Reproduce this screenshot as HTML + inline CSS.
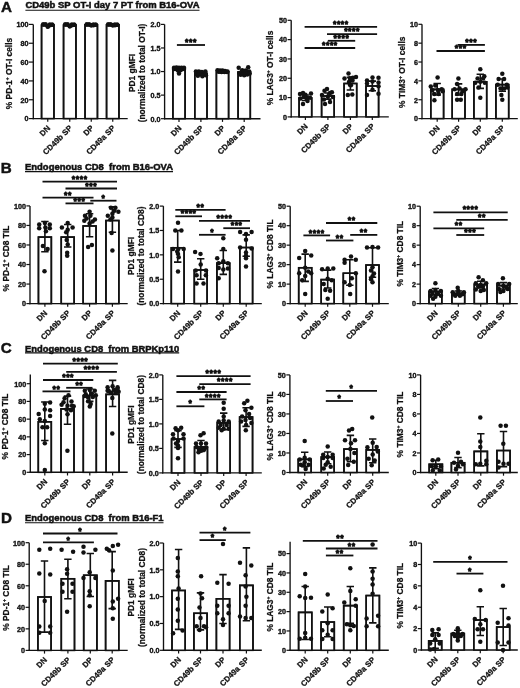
<!DOCTYPE html>
<html><head><meta charset="utf-8"><title>Figure</title>
<style>
html,body{margin:0;padding:0;background:#fff;}
svg{display:block;}
text{font-family:'Liberation Sans', Arial, sans-serif;font-weight:bold;fill:#111;stroke:none;}
.tk{font-size:7.2px;stroke:#111;stroke-width:0.35px;}
.xl{font-size:7.9px;stroke:#111;stroke-width:0.25px;}
.st{font-size:8.6px;stroke:#111;stroke-width:0.8px;stroke-linejoin:round;letter-spacing:0.6px;}
.yl{font-size:8.4px;stroke:#111;stroke-width:0.25px;}
.rl{font-size:15.2px;stroke:#111;stroke-width:0.45px;}
.ti{font-size:9.6px;stroke:#111;stroke-width:0.5px;font-family:'Liberation Sans',sans-serif;}
</style></head><body>
<svg width="520" height="688" viewBox="0 0 520 688">
<rect width="520" height="688" fill="#fff"/>
<g stroke="#111" stroke-width="1.6" fill="none">
<line x1="33.3" y1="24.4" x2="33.3" y2="119.25" stroke-width="1.35" />
<line x1="32.65" y1="118.6" x2="127.7" y2="118.6" stroke-width="1.4" />
<line x1="28.9" y1="118.60" x2="33.3" y2="118.60" stroke-width="1.2" />
<text class="tk" x="28.4" y="121.40" text-anchor="end">0</text>
<line x1="28.9" y1="99.76" x2="33.3" y2="99.76" stroke-width="1.2" />
<text class="tk" x="28.4" y="102.56" text-anchor="end">20</text>
<line x1="28.9" y1="80.92" x2="33.3" y2="80.92" stroke-width="1.2" />
<text class="tk" x="28.4" y="83.72" text-anchor="end">40</text>
<line x1="28.9" y1="62.08" x2="33.3" y2="62.08" stroke-width="1.2" />
<text class="tk" x="28.4" y="64.88" text-anchor="end">60</text>
<line x1="28.9" y1="43.24" x2="33.3" y2="43.24" stroke-width="1.2" />
<text class="tk" x="28.4" y="46.04" text-anchor="end">80</text>
<line x1="28.9" y1="24.40" x2="33.3" y2="24.40" stroke-width="1.2" />
<text class="tk" x="28.4" y="27.20" text-anchor="end">100</text>
<rect x="41.55" y="25.15" width="12.40" height="93.45" fill="#fff" />
<line x1="47.75" y1="118.6" x2="47.75" y2="121.8" stroke-width="1.2" />
<rect x="63.55" y="25.15" width="12.40" height="93.45" fill="#fff" />
<line x1="69.75" y1="118.6" x2="69.75" y2="121.8" stroke-width="1.2" />
<rect x="85.05" y="24.87" width="12.40" height="93.73" fill="#fff" />
<line x1="91.25" y1="118.6" x2="91.25" y2="121.8" stroke-width="1.2" />
<rect x="106.55" y="24.87" width="12.40" height="93.73" fill="#fff" />
<line x1="112.75" y1="118.6" x2="112.75" y2="121.8" stroke-width="1.2" />
<path d="M41.55 118.60V25.15H53.95V118.60" fill="none" />
<path d="M63.55 118.60V25.15H75.95V118.60" fill="none" />
<path d="M85.05 118.60V24.87H97.45V118.60" fill="none" />
<path d="M106.55 118.60V24.87H118.95V118.60" fill="none" />
<circle cx="43.25" cy="24.40" r="2.25" stroke="none" fill="#111" />
<circle cx="52.25" cy="24.87" r="2.25" stroke="none" fill="#111" />
<circle cx="45.55" cy="24.40" r="2.25" stroke="none" fill="#111" />
<circle cx="49.95" cy="25.34" r="2.25" stroke="none" fill="#111" />
<circle cx="47.75" cy="26.28" r="2.25" stroke="none" fill="#111" />
<circle cx="43.25" cy="24.40" r="2.25" stroke="none" fill="#111" />
<circle cx="52.25" cy="24.78" r="2.25" stroke="none" fill="#111" />
<circle cx="45.55" cy="24.40" r="2.25" stroke="none" fill="#111" />
<circle cx="49.95" cy="24.59" r="2.25" stroke="none" fill="#111" />
<circle cx="47.75" cy="26.76" r="2.25" stroke="none" fill="#111" />
<circle cx="65.25" cy="24.40" r="2.25" stroke="none" fill="#111" />
<circle cx="74.25" cy="24.87" r="2.25" stroke="none" fill="#111" />
<circle cx="67.55" cy="24.40" r="2.25" stroke="none" fill="#111" />
<circle cx="71.95" cy="25.34" r="2.25" stroke="none" fill="#111" />
<circle cx="69.75" cy="26.28" r="2.25" stroke="none" fill="#111" />
<circle cx="65.25" cy="24.40" r="2.25" stroke="none" fill="#111" />
<circle cx="74.25" cy="24.78" r="2.25" stroke="none" fill="#111" />
<circle cx="67.55" cy="24.40" r="2.25" stroke="none" fill="#111" />
<circle cx="71.95" cy="24.59" r="2.25" stroke="none" fill="#111" />
<circle cx="69.75" cy="26.28" r="2.25" stroke="none" fill="#111" />
<circle cx="86.75" cy="24.40" r="2.25" stroke="none" fill="#111" />
<circle cx="95.75" cy="24.87" r="2.25" stroke="none" fill="#111" />
<circle cx="89.05" cy="24.40" r="2.25" stroke="none" fill="#111" />
<circle cx="93.45" cy="25.34" r="2.25" stroke="none" fill="#111" />
<circle cx="91.25" cy="25.34" r="2.25" stroke="none" fill="#111" />
<circle cx="86.75" cy="24.40" r="2.25" stroke="none" fill="#111" />
<circle cx="95.75" cy="24.78" r="2.25" stroke="none" fill="#111" />
<circle cx="89.05" cy="24.40" r="2.25" stroke="none" fill="#111" />
<circle cx="93.45" cy="24.59" r="2.25" stroke="none" fill="#111" />
<circle cx="91.25" cy="25.15" r="2.25" stroke="none" fill="#111" />
<circle cx="108.25" cy="24.40" r="2.25" stroke="none" fill="#111" />
<circle cx="117.25" cy="24.87" r="2.25" stroke="none" fill="#111" />
<circle cx="110.55" cy="24.40" r="2.25" stroke="none" fill="#111" />
<circle cx="114.95" cy="25.34" r="2.25" stroke="none" fill="#111" />
<circle cx="112.75" cy="25.34" r="2.25" stroke="none" fill="#111" />
<circle cx="108.25" cy="24.40" r="2.25" stroke="none" fill="#111" />
<circle cx="117.25" cy="24.78" r="2.25" stroke="none" fill="#111" />
<circle cx="110.55" cy="24.40" r="2.25" stroke="none" fill="#111" />
<circle cx="114.95" cy="24.59" r="2.25" stroke="none" fill="#111" />
<circle cx="112.75" cy="25.15" r="2.25" stroke="none" fill="#111" />
<text class="xl" transform="translate(50.75,128.60) rotate(-45)" text-anchor="end">DN</text>
<text class="xl" transform="translate(72.75,128.60) rotate(-45)" text-anchor="end">CD49b SP</text>
<text class="xl" transform="translate(94.25,128.60) rotate(-45)" text-anchor="end">DP</text>
<text class="xl" transform="translate(115.75,128.60) rotate(-45)" text-anchor="end">CD49a SP</text>
<text class="yl" transform="translate(11.7,73.5) rotate(-90)" text-anchor="middle">% PD-1<tspan baseline-shift="super" font-size="5">+</tspan> OT-I cells</text>
<line x1="164.6" y1="24.4" x2="164.6" y2="119.35000000000001" stroke-width="1.35" />
<line x1="163.95" y1="118.7" x2="260.5" y2="118.7" stroke-width="1.4" />
<line x1="161.0" y1="118.70" x2="164.6" y2="118.70" stroke-width="1.2" />
<text class="tk" x="160.5" y="121.50" text-anchor="end">0.0</text>
<line x1="161.0" y1="95.12" x2="164.6" y2="95.12" stroke-width="1.2" />
<text class="tk" x="160.5" y="97.92" text-anchor="end">0.5</text>
<line x1="161.0" y1="71.55" x2="164.6" y2="71.55" stroke-width="1.2" />
<text class="tk" x="160.5" y="74.35" text-anchor="end">1.0</text>
<line x1="161.0" y1="47.97" x2="164.6" y2="47.97" stroke-width="1.2" />
<text class="tk" x="160.5" y="50.77" text-anchor="end">1.5</text>
<line x1="161.0" y1="24.40" x2="164.6" y2="24.40" stroke-width="1.2" />
<text class="tk" x="160.5" y="27.20" text-anchor="end">2.0</text>
<rect x="172.90" y="68.72" width="12.20" height="49.98" fill="#fff" />
<line x1="179" y1="118.7" x2="179" y2="121.9" stroke-width="1.2" />
<rect x="194.80" y="73.44" width="12.20" height="45.26" fill="#fff" />
<line x1="200.9" y1="118.7" x2="200.9" y2="121.9" stroke-width="1.2" />
<rect x="216.40" y="72.02" width="12.20" height="46.68" fill="#fff" />
<line x1="222.5" y1="118.7" x2="222.5" y2="121.9" stroke-width="1.2" />
<rect x="238.10" y="72.02" width="12.20" height="46.68" fill="#fff" />
<line x1="244.2" y1="118.7" x2="244.2" y2="121.9" stroke-width="1.2" />
<path d="M172.90 118.70V68.72H185.10V118.70" fill="none" />
<path d="M194.80 118.70V73.44H207.00V118.70" fill="none" />
<path d="M216.40 118.70V72.02H228.60V118.70" fill="none" />
<path d="M238.10 118.70V72.02H250.30V118.70" fill="none" />
<circle cx="174.00" cy="67.78" r="2.25" stroke="none" fill="#111" />
<circle cx="176.50" cy="67.54" r="2.25" stroke="none" fill="#111" />
<circle cx="179.00" cy="67.78" r="2.25" stroke="none" fill="#111" />
<circle cx="181.50" cy="67.78" r="2.25" stroke="none" fill="#111" />
<circle cx="184.00" cy="67.78" r="2.25" stroke="none" fill="#111" />
<circle cx="174.00" cy="68.96" r="2.25" stroke="none" fill="#111" />
<circle cx="176.50" cy="69.19" r="2.25" stroke="none" fill="#111" />
<circle cx="181.50" cy="69.19" r="2.25" stroke="none" fill="#111" />
<circle cx="184.00" cy="68.96" r="2.25" stroke="none" fill="#111" />
<circle cx="179.00" cy="73.44" r="2.25" stroke="none" fill="#111" />
<circle cx="178.00" cy="70.61" r="2.25" stroke="none" fill="#111" />
<circle cx="180.50" cy="70.14" r="2.25" stroke="none" fill="#111" />
<circle cx="195.90" cy="71.55" r="2.25" stroke="none" fill="#111" />
<circle cx="198.90" cy="71.55" r="2.25" stroke="none" fill="#111" />
<circle cx="201.90" cy="72.02" r="2.25" stroke="none" fill="#111" />
<circle cx="205.40" cy="71.55" r="2.25" stroke="none" fill="#111" />
<circle cx="196.40" cy="73.91" r="2.25" stroke="none" fill="#111" />
<circle cx="200.90" cy="73.91" r="2.25" stroke="none" fill="#111" />
<circle cx="205.40" cy="73.91" r="2.25" stroke="none" fill="#111" />
<circle cx="197.90" cy="75.79" r="2.25" stroke="none" fill="#111" />
<circle cx="202.40" cy="76.26" r="2.25" stroke="none" fill="#111" />
<circle cx="205.90" cy="75.32" r="2.25" stroke="none" fill="#111" />
<circle cx="199.90" cy="72.96" r="2.25" stroke="none" fill="#111" />
<circle cx="217.50" cy="70.14" r="2.25" stroke="none" fill="#111" />
<circle cx="220.00" cy="70.61" r="2.25" stroke="none" fill="#111" />
<circle cx="222.50" cy="70.61" r="2.25" stroke="none" fill="#111" />
<circle cx="225.00" cy="71.08" r="2.25" stroke="none" fill="#111" />
<circle cx="227.50" cy="71.55" r="2.25" stroke="none" fill="#111" />
<circle cx="218.50" cy="71.79" r="2.25" stroke="none" fill="#111" />
<circle cx="221.50" cy="72.02" r="2.25" stroke="none" fill="#111" />
<circle cx="224.50" cy="72.02" r="2.25" stroke="none" fill="#111" />
<circle cx="227.00" cy="72.02" r="2.25" stroke="none" fill="#111" />
<circle cx="222.50" cy="71.55" r="2.25" stroke="none" fill="#111" />
<circle cx="238.70" cy="67.78" r="2.25" stroke="none" fill="#111" />
<circle cx="248.20" cy="67.31" r="2.25" stroke="none" fill="#111" />
<circle cx="242.20" cy="70.14" r="2.25" stroke="none" fill="#111" />
<circle cx="245.70" cy="70.61" r="2.25" stroke="none" fill="#111" />
<circle cx="249.20" cy="71.55" r="2.25" stroke="none" fill="#111" />
<circle cx="239.20" cy="72.96" r="2.25" stroke="none" fill="#111" />
<circle cx="243.20" cy="73.44" r="2.25" stroke="none" fill="#111" />
<circle cx="247.20" cy="74.38" r="2.25" stroke="none" fill="#111" />
<circle cx="244.20" cy="75.32" r="2.25" stroke="none" fill="#111" />
<circle cx="240.70" cy="74.85" r="2.25" stroke="none" fill="#111" />
<circle cx="249.70" cy="73.44" r="2.25" stroke="none" fill="#111" />
<path d="M179.00 70.14V67.31M175.30 67.31H182.70M175.30 70.14H182.70" fill="none" />
<path d="M200.90 74.85V71.55M197.20 71.55H204.60M197.20 74.85H204.60" fill="none" />
<path d="M222.50 72.96V71.08M218.80 71.08H226.20M218.80 72.96H226.20" fill="none" />
<path d="M244.20 73.91V70.14M240.50 70.14H247.90M240.50 73.91H247.90" fill="none" />
<text class="xl" transform="translate(182.00,128.70) rotate(-45)" text-anchor="end">DN</text>
<text class="xl" transform="translate(203.90,128.70) rotate(-45)" text-anchor="end">CD49b SP</text>
<text class="xl" transform="translate(225.50,128.70) rotate(-45)" text-anchor="end">DP</text>
<text class="xl" transform="translate(247.20,128.70) rotate(-45)" text-anchor="end">CD49a SP</text>
<line x1="176.9" y1="45" x2="205" y2="45" stroke-width="1.8" />
<text class="st" x="190.95" y="45.10" text-anchor="middle">***</text>
<text class="yl" transform="translate(134.9,73) rotate(-90)" text-anchor="middle">PD1 gMFI</text>
<text class="yl" transform="translate(144.5,73) rotate(-90)" text-anchor="middle">(normalized to total OT-I)</text>
<line x1="291.2" y1="20.3" x2="291.2" y2="117.55000000000001" stroke-width="1.35" />
<line x1="290.55" y1="116.9" x2="388.8" y2="116.9" stroke-width="1.4" />
<line x1="287.59999999999997" y1="116.90" x2="291.2" y2="116.90" stroke-width="1.2" />
<text class="tk" x="287.09999999999997" y="119.70" text-anchor="end">0</text>
<line x1="287.59999999999997" y1="97.58" x2="291.2" y2="97.58" stroke-width="1.2" />
<text class="tk" x="287.09999999999997" y="100.38" text-anchor="end">10</text>
<line x1="287.59999999999997" y1="78.26" x2="291.2" y2="78.26" stroke-width="1.2" />
<text class="tk" x="287.09999999999997" y="81.06" text-anchor="end">20</text>
<line x1="287.59999999999997" y1="58.94" x2="291.2" y2="58.94" stroke-width="1.2" />
<text class="tk" x="287.09999999999997" y="61.74" text-anchor="end">30</text>
<line x1="287.59999999999997" y1="39.62" x2="291.2" y2="39.62" stroke-width="1.2" />
<text class="tk" x="287.09999999999997" y="42.42" text-anchor="end">40</text>
<line x1="287.59999999999997" y1="20.30" x2="291.2" y2="20.30" stroke-width="1.2" />
<text class="tk" x="287.09999999999997" y="23.10" text-anchor="end">50</text>
<rect x="299.10" y="97.97" width="12.60" height="18.93" fill="#fff" />
<line x1="305.4" y1="116.9" x2="305.4" y2="120.10000000000001" stroke-width="1.2" />
<rect x="321.60" y="96.03" width="12.60" height="20.87" fill="#fff" />
<line x1="327.9" y1="116.9" x2="327.9" y2="120.10000000000001" stroke-width="1.2" />
<rect x="344.10" y="83.48" width="12.60" height="33.42" fill="#fff" />
<line x1="350.4" y1="116.9" x2="350.4" y2="120.10000000000001" stroke-width="1.2" />
<rect x="366.00" y="85.99" width="12.60" height="30.91" fill="#fff" />
<line x1="372.3" y1="116.9" x2="372.3" y2="120.10000000000001" stroke-width="1.2" />
<path d="M299.10 116.90V97.97H311.70V116.90" fill="none" />
<path d="M321.60 116.90V96.03H334.20V116.90" fill="none" />
<path d="M344.10 116.90V83.48H356.70V116.90" fill="none" />
<path d="M366.00 116.90V85.99H378.60V116.90" fill="none" />
<circle cx="300.00" cy="93.91" r="2.25" stroke="none" fill="#111" />
<circle cx="303.00" cy="92.94" r="2.25" stroke="none" fill="#111" />
<circle cx="311.00" cy="93.52" r="2.25" stroke="none" fill="#111" />
<circle cx="304.00" cy="96.81" r="2.25" stroke="none" fill="#111" />
<circle cx="307.00" cy="97.77" r="2.25" stroke="none" fill="#111" />
<circle cx="310.00" cy="97.77" r="2.25" stroke="none" fill="#111" />
<circle cx="303.00" cy="103.96" r="2.25" stroke="none" fill="#111" />
<circle cx="307.50" cy="101.06" r="2.25" stroke="none" fill="#111" />
<circle cx="300.40" cy="98.55" r="2.25" stroke="none" fill="#111" />
<circle cx="305.40" cy="94.68" r="2.25" stroke="none" fill="#111" />
<circle cx="327.00" cy="89.08" r="2.25" stroke="none" fill="#111" />
<circle cx="324.50" cy="90.82" r="2.25" stroke="none" fill="#111" />
<circle cx="322.00" cy="95.07" r="2.25" stroke="none" fill="#111" />
<circle cx="330.00" cy="92.94" r="2.25" stroke="none" fill="#111" />
<circle cx="333.00" cy="97.00" r="2.25" stroke="none" fill="#111" />
<circle cx="325.00" cy="103.96" r="2.25" stroke="none" fill="#111" />
<circle cx="330.00" cy="102.02" r="2.25" stroke="none" fill="#111" />
<circle cx="327.90" cy="96.61" r="2.25" stroke="none" fill="#111" />
<circle cx="331.90" cy="92.17" r="2.25" stroke="none" fill="#111" />
<circle cx="323.90" cy="99.51" r="2.25" stroke="none" fill="#111" />
<circle cx="348.50" cy="73.43" r="2.25" stroke="none" fill="#111" />
<circle cx="344.50" cy="78.45" r="2.25" stroke="none" fill="#111" />
<circle cx="349.90" cy="78.26" r="2.25" stroke="none" fill="#111" />
<circle cx="352.90" cy="77.68" r="2.25" stroke="none" fill="#111" />
<circle cx="356.00" cy="77.10" r="2.25" stroke="none" fill="#111" />
<circle cx="352.50" cy="80.58" r="2.25" stroke="none" fill="#111" />
<circle cx="349.00" cy="81.93" r="2.25" stroke="none" fill="#111" />
<circle cx="349.90" cy="84.83" r="2.25" stroke="none" fill="#111" />
<circle cx="350.90" cy="85.22" r="2.25" stroke="none" fill="#111" />
<circle cx="347.80" cy="95.07" r="2.25" stroke="none" fill="#111" />
<circle cx="352.30" cy="94.49" r="2.25" stroke="none" fill="#111" />
<circle cx="367.00" cy="80.58" r="2.25" stroke="none" fill="#111" />
<circle cx="372.50" cy="77.49" r="2.25" stroke="none" fill="#111" />
<circle cx="378.50" cy="77.87" r="2.25" stroke="none" fill="#111" />
<circle cx="372.50" cy="81.54" r="2.25" stroke="none" fill="#111" />
<circle cx="378.50" cy="82.51" r="2.25" stroke="none" fill="#111" />
<circle cx="367.00" cy="83.48" r="2.25" stroke="none" fill="#111" />
<circle cx="378.50" cy="86.37" r="2.25" stroke="none" fill="#111" />
<circle cx="372.50" cy="89.85" r="2.25" stroke="none" fill="#111" />
<circle cx="367.00" cy="95.07" r="2.25" stroke="none" fill="#111" />
<circle cx="378.50" cy="93.72" r="2.25" stroke="none" fill="#111" />
<path d="M305.40 100.48V95.07M301.70 95.07H309.10M301.70 100.48H309.10" fill="none" />
<path d="M327.90 99.13V92.94M324.20 92.94H331.60M324.20 99.13H331.60" fill="none" />
<path d="M350.40 90.05V77.29M346.70 77.29H354.10M346.70 90.05H354.10" fill="none" />
<path d="M372.30 90.82V81.16M368.60 81.16H376.00M368.60 90.82H376.00" fill="none" />
<text class="xl" transform="translate(308.40,126.90) rotate(-45)" text-anchor="end">DN</text>
<text class="xl" transform="translate(330.90,126.90) rotate(-45)" text-anchor="end">CD49b SP</text>
<text class="xl" transform="translate(353.40,126.90) rotate(-45)" text-anchor="end">DP</text>
<text class="xl" transform="translate(375.30,126.90) rotate(-45)" text-anchor="end">CD49a SP</text>
<line x1="304.6" y1="26.8" x2="377.1" y2="26.8" stroke-width="1.8" />
<text class="st" x="340.85" y="26.90" text-anchor="middle">****</text>
<line x1="327" y1="34.1" x2="377.1" y2="34.1" stroke-width="1.8" />
<text class="st" x="352.05" y="34.20" text-anchor="middle">****</text>
<line x1="327.8" y1="40.8" x2="355.2" y2="40.8" stroke-width="1.8" />
<text class="st" x="341.50" y="40.90" text-anchor="middle">****</text>
<line x1="304.6" y1="48" x2="355.2" y2="48" stroke-width="1.8" />
<text class="st" x="329.90" y="48.10" text-anchor="middle">****</text>
<text class="yl" transform="translate(273.2,68) rotate(-90)" text-anchor="middle">% LAG3<tspan baseline-shift="super" font-size="5">+</tspan> OT-I cells</text>
<line x1="422" y1="24.3" x2="422" y2="119.25" stroke-width="1.35" />
<line x1="421.35" y1="118.6" x2="517.8" y2="118.6" stroke-width="1.4" />
<line x1="418.4" y1="118.60" x2="422" y2="118.60" stroke-width="1.2" />
<text class="tk" x="417.9" y="121.40" text-anchor="end">0</text>
<line x1="418.4" y1="99.74" x2="422" y2="99.74" stroke-width="1.2" />
<text class="tk" x="417.9" y="102.54" text-anchor="end">2</text>
<line x1="418.4" y1="80.88" x2="422" y2="80.88" stroke-width="1.2" />
<text class="tk" x="417.9" y="83.68" text-anchor="end">4</text>
<line x1="418.4" y1="62.02" x2="422" y2="62.02" stroke-width="1.2" />
<text class="tk" x="417.9" y="64.82" text-anchor="end">6</text>
<line x1="418.4" y1="43.16" x2="422" y2="43.16" stroke-width="1.2" />
<text class="tk" x="417.9" y="45.96" text-anchor="end">8</text>
<line x1="418.4" y1="24.30" x2="422" y2="24.30" stroke-width="1.2" />
<text class="tk" x="417.9" y="27.10" text-anchor="end">10</text>
<rect x="430.80" y="89.37" width="12.80" height="29.23" fill="#fff" />
<line x1="437.2" y1="118.6" x2="437.2" y2="121.8" stroke-width="1.2" />
<rect x="452.20" y="89.37" width="12.80" height="29.23" fill="#fff" />
<line x1="458.6" y1="118.6" x2="458.6" y2="121.8" stroke-width="1.2" />
<rect x="473.90" y="81.82" width="12.80" height="36.78" fill="#fff" />
<line x1="480.3" y1="118.6" x2="480.3" y2="121.8" stroke-width="1.2" />
<rect x="495.90" y="84.65" width="12.80" height="33.95" fill="#fff" />
<line x1="502.3" y1="118.6" x2="502.3" y2="121.8" stroke-width="1.2" />
<path d="M430.80 118.60V89.37H443.60V118.60" fill="none" />
<path d="M452.20 118.60V89.37H465.00V118.60" fill="none" />
<path d="M473.90 118.60V81.82H486.70V118.60" fill="none" />
<path d="M495.90 118.60V84.65H508.70V118.60" fill="none" />
<circle cx="437.60" cy="77.49" r="2.25" stroke="none" fill="#111" />
<circle cx="430.80" cy="86.54" r="2.25" stroke="none" fill="#111" />
<circle cx="435.30" cy="85.59" r="2.25" stroke="none" fill="#111" />
<circle cx="441.70" cy="89.37" r="2.25" stroke="none" fill="#111" />
<circle cx="434.20" cy="94.08" r="2.25" stroke="none" fill="#111" />
<circle cx="438.70" cy="94.08" r="2.25" stroke="none" fill="#111" />
<circle cx="434.40" cy="100.31" r="2.25" stroke="none" fill="#111" />
<circle cx="438.20" cy="90.31" r="2.25" stroke="none" fill="#111" />
<circle cx="442.70" cy="91.25" r="2.25" stroke="none" fill="#111" />
<circle cx="432.20" cy="90.31" r="2.25" stroke="none" fill="#111" />
<circle cx="458.40" cy="78.43" r="2.25" stroke="none" fill="#111" />
<circle cx="457.10" cy="83.90" r="2.25" stroke="none" fill="#111" />
<circle cx="454.60" cy="89.37" r="2.25" stroke="none" fill="#111" />
<circle cx="465.50" cy="89.37" r="2.25" stroke="none" fill="#111" />
<circle cx="457.10" cy="94.08" r="2.25" stroke="none" fill="#111" />
<circle cx="461.40" cy="94.08" r="2.25" stroke="none" fill="#111" />
<circle cx="457.10" cy="99.74" r="2.25" stroke="none" fill="#111" />
<circle cx="460.80" cy="99.74" r="2.25" stroke="none" fill="#111" />
<circle cx="459.60" cy="88.42" r="2.25" stroke="none" fill="#111" />
<circle cx="462.60" cy="91.25" r="2.25" stroke="none" fill="#111" />
<circle cx="480.30" cy="69.28" r="2.25" stroke="none" fill="#111" />
<circle cx="477.60" cy="78.43" r="2.25" stroke="none" fill="#111" />
<circle cx="483.10" cy="78.43" r="2.25" stroke="none" fill="#111" />
<circle cx="480.30" cy="81.82" r="2.25" stroke="none" fill="#111" />
<circle cx="478.50" cy="87.48" r="2.25" stroke="none" fill="#111" />
<circle cx="480.30" cy="97.85" r="2.25" stroke="none" fill="#111" />
<circle cx="484.80" cy="82.77" r="2.25" stroke="none" fill="#111" />
<circle cx="475.30" cy="82.77" r="2.25" stroke="none" fill="#111" />
<circle cx="484.30" cy="76.16" r="2.25" stroke="none" fill="#111" />
<circle cx="502.30" cy="73.81" r="2.25" stroke="none" fill="#111" />
<circle cx="498.60" cy="78.99" r="2.25" stroke="none" fill="#111" />
<circle cx="504.10" cy="78.99" r="2.25" stroke="none" fill="#111" />
<circle cx="497.70" cy="84.65" r="2.25" stroke="none" fill="#111" />
<circle cx="506.80" cy="84.65" r="2.25" stroke="none" fill="#111" />
<circle cx="500.50" cy="88.42" r="2.25" stroke="none" fill="#111" />
<circle cx="504.10" cy="88.42" r="2.25" stroke="none" fill="#111" />
<circle cx="501.40" cy="95.02" r="2.25" stroke="none" fill="#111" />
<circle cx="502.30" cy="99.74" r="2.25" stroke="none" fill="#111" />
<circle cx="507.30" cy="87.48" r="2.25" stroke="none" fill="#111" />
<path d="M437.20 95.02V83.52M433.50 83.52H440.90M433.50 95.02H440.90" fill="none" />
<path d="M458.60 95.02V83.90M454.90 83.90H462.30M454.90 95.02H462.30" fill="none" />
<path d="M480.30 88.42V74.28M476.60 74.28H484.00M476.60 88.42H484.00" fill="none" />
<path d="M502.30 91.25V78.99M498.60 78.99H506.00M498.60 91.25H506.00" fill="none" />
<text class="xl" transform="translate(440.20,128.60) rotate(-45)" text-anchor="end">DN</text>
<text class="xl" transform="translate(461.60,128.60) rotate(-45)" text-anchor="end">CD49b SP</text>
<text class="xl" transform="translate(483.30,128.60) rotate(-45)" text-anchor="end">DP</text>
<text class="xl" transform="translate(505.30,128.60) rotate(-45)" text-anchor="end">CD49a SP</text>
<line x1="436.5" y1="51" x2="484.9" y2="51" stroke-width="1.8" />
<text class="st" x="460.70" y="51.10" text-anchor="middle">***</text>
<line x1="457.5" y1="44.9" x2="484.9" y2="44.9" stroke-width="1.8" />
<text class="st" x="471.20" y="45.00" text-anchor="middle">***</text>
<text class="yl" transform="translate(405.2,72.3) rotate(-90)" text-anchor="middle">% TIM3<tspan baseline-shift="super" font-size="5">+</tspan> OT-I cells</text>
<line x1="30" y1="205.9" x2="30" y2="304.25" stroke-width="1.35" />
<line x1="29.35" y1="303.6" x2="127.7" y2="303.6" stroke-width="1.4" />
<line x1="26.4" y1="303.60" x2="30" y2="303.60" stroke-width="1.2" />
<text class="tk" x="25.9" y="306.40" text-anchor="end">0</text>
<line x1="26.4" y1="284.06" x2="30" y2="284.06" stroke-width="1.2" />
<text class="tk" x="25.9" y="286.86" text-anchor="end">20</text>
<line x1="26.4" y1="264.52" x2="30" y2="264.52" stroke-width="1.2" />
<text class="tk" x="25.9" y="267.32" text-anchor="end">40</text>
<line x1="26.4" y1="244.98" x2="30" y2="244.98" stroke-width="1.2" />
<text class="tk" x="25.9" y="247.78" text-anchor="end">60</text>
<line x1="26.4" y1="225.44" x2="30" y2="225.44" stroke-width="1.2" />
<text class="tk" x="25.9" y="228.24" text-anchor="end">80</text>
<line x1="26.4" y1="205.90" x2="30" y2="205.90" stroke-width="1.2" />
<text class="tk" x="25.9" y="208.70" text-anchor="end">100</text>
<rect x="38.45" y="237.16" width="12.90" height="66.44" fill="#fff" />
<line x1="44.9" y1="303.6" x2="44.9" y2="306.8" stroke-width="1.2" />
<rect x="61.25" y="237.16" width="12.90" height="66.44" fill="#fff" />
<line x1="67.7" y1="303.6" x2="67.7" y2="306.8" stroke-width="1.2" />
<rect x="83.15" y="225.93" width="12.90" height="77.67" fill="#fff" />
<line x1="89.6" y1="303.6" x2="89.6" y2="306.8" stroke-width="1.2" />
<rect x="105.95" y="220.56" width="12.90" height="83.05" fill="#fff" />
<line x1="112.4" y1="303.6" x2="112.4" y2="306.8" stroke-width="1.2" />
<path d="M38.45 303.60V237.16H51.35V303.60" fill="none" />
<path d="M61.25 303.60V237.16H74.15V303.60" fill="none" />
<path d="M83.15 303.60V225.93H96.05V303.60" fill="none" />
<path d="M105.95 303.60V220.56H118.85V303.60" fill="none" />
<circle cx="39.20" cy="224.46" r="2.25" stroke="none" fill="#111" />
<circle cx="44.90" cy="223.00" r="2.25" stroke="none" fill="#111" />
<circle cx="49.80" cy="224.46" r="2.25" stroke="none" fill="#111" />
<circle cx="39.20" cy="228.37" r="2.25" stroke="none" fill="#111" />
<circle cx="45.40" cy="227.39" r="2.25" stroke="none" fill="#111" />
<circle cx="49.80" cy="228.37" r="2.25" stroke="none" fill="#111" />
<circle cx="45.90" cy="231.30" r="2.25" stroke="none" fill="#111" />
<circle cx="42.90" cy="245.96" r="2.25" stroke="none" fill="#111" />
<circle cx="47.60" cy="248.89" r="2.25" stroke="none" fill="#111" />
<circle cx="44.50" cy="271.36" r="2.25" stroke="none" fill="#111" />
<circle cx="61.90" cy="227.59" r="2.25" stroke="none" fill="#111" />
<circle cx="67.70" cy="223.00" r="2.25" stroke="none" fill="#111" />
<circle cx="72.60" cy="227.59" r="2.25" stroke="none" fill="#111" />
<circle cx="67.70" cy="229.84" r="2.25" stroke="none" fill="#111" />
<circle cx="66.20" cy="232.28" r="2.25" stroke="none" fill="#111" />
<circle cx="66.70" cy="240.09" r="2.25" stroke="none" fill="#111" />
<circle cx="67.70" cy="244.39" r="2.25" stroke="none" fill="#111" />
<circle cx="67.20" cy="252.80" r="2.25" stroke="none" fill="#111" />
<circle cx="67.20" cy="255.73" r="2.25" stroke="none" fill="#111" />
<circle cx="89.60" cy="211.76" r="2.25" stroke="none" fill="#111" />
<circle cx="85.00" cy="215.67" r="2.25" stroke="none" fill="#111" />
<circle cx="90.40" cy="215.67" r="2.25" stroke="none" fill="#111" />
<circle cx="94.90" cy="219.58" r="2.25" stroke="none" fill="#111" />
<circle cx="84.30" cy="220.85" r="2.25" stroke="none" fill="#111" />
<circle cx="89.60" cy="223.49" r="2.25" stroke="none" fill="#111" />
<circle cx="86.60" cy="218.60" r="2.25" stroke="none" fill="#111" />
<circle cx="92.60" cy="221.53" r="2.25" stroke="none" fill="#111" />
<circle cx="88.10" cy="246.93" r="2.25" stroke="none" fill="#111" />
<circle cx="91.90" cy="244.98" r="2.25" stroke="none" fill="#111" />
<circle cx="110.90" cy="207.85" r="2.25" stroke="none" fill="#111" />
<circle cx="115.40" cy="207.85" r="2.25" stroke="none" fill="#111" />
<circle cx="118.40" cy="211.76" r="2.25" stroke="none" fill="#111" />
<circle cx="107.80" cy="215.67" r="2.25" stroke="none" fill="#111" />
<circle cx="112.40" cy="213.72" r="2.25" stroke="none" fill="#111" />
<circle cx="112.40" cy="217.62" r="2.25" stroke="none" fill="#111" />
<circle cx="114.40" cy="210.79" r="2.25" stroke="none" fill="#111" />
<circle cx="110.40" cy="219.58" r="2.25" stroke="none" fill="#111" />
<circle cx="111.60" cy="232.96" r="2.25" stroke="none" fill="#111" />
<circle cx="112.40" cy="250.55" r="2.25" stroke="none" fill="#111" />
<path d="M44.90 251.82V221.53M41.20 221.53H48.60M41.20 251.82H48.60" fill="none" />
<path d="M67.70 246.93V224.46M64.00 224.46H71.40M64.00 246.93H71.40" fill="none" />
<path d="M89.60 236.77V213.72M85.90 213.72H93.30M85.90 236.77H93.30" fill="none" />
<path d="M112.40 232.28V206.88M108.70 206.88H116.10M108.70 232.28H116.10" fill="none" />
<text class="xl" transform="translate(47.90,313.60) rotate(-45)" text-anchor="end">DN</text>
<text class="xl" transform="translate(70.70,313.60) rotate(-45)" text-anchor="end">CD49b SP</text>
<text class="xl" transform="translate(92.60,313.60) rotate(-45)" text-anchor="end">DP</text>
<text class="xl" transform="translate(115.40,313.60) rotate(-45)" text-anchor="end">CD49a SP</text>
<line x1="42.5" y1="181.6" x2="117" y2="181.6" stroke-width="1.8" />
<text class="st" x="79.75" y="181.70" text-anchor="middle">****</text>
<line x1="65.5" y1="188.5" x2="117" y2="188.5" stroke-width="1.8" />
<text class="st" x="91.25" y="188.60" text-anchor="middle">***</text>
<line x1="42.5" y1="197.6" x2="93.5" y2="197.6" stroke-width="1.8" />
<text class="st" x="68.00" y="197.70" text-anchor="middle">**</text>
<line x1="90.3" y1="200.7" x2="116.5" y2="200.7" stroke-width="1.8" />
<text class="st" x="103.40" y="200.80" text-anchor="middle">*</text>
<line x1="65.5" y1="203.4" x2="93.5" y2="203.4" stroke-width="1.8" />
<text class="st" x="79.50" y="203.50" text-anchor="middle">***</text>
<text class="yl" transform="translate(9.4,258.5) rotate(-90)" text-anchor="middle">% PD-1<tspan baseline-shift="super" font-size="5">+</tspan> CD8 TIL</text>
<line x1="163.4" y1="206.1" x2="163.4" y2="304.25" stroke-width="1.35" />
<line x1="162.75" y1="303.6" x2="261.8" y2="303.6" stroke-width="1.4" />
<line x1="159.8" y1="303.60" x2="163.4" y2="303.60" stroke-width="1.2" />
<text class="tk" x="159.3" y="306.40" text-anchor="end">0.0</text>
<line x1="159.8" y1="279.23" x2="163.4" y2="279.23" stroke-width="1.2" />
<text class="tk" x="159.3" y="282.03" text-anchor="end">0.5</text>
<line x1="159.8" y1="254.85" x2="163.4" y2="254.85" stroke-width="1.2" />
<text class="tk" x="159.3" y="257.65" text-anchor="end">1.0</text>
<line x1="159.8" y1="230.47" x2="163.4" y2="230.47" stroke-width="1.2" />
<text class="tk" x="159.3" y="233.28" text-anchor="end">1.5</text>
<line x1="159.8" y1="206.10" x2="163.4" y2="206.10" stroke-width="1.2" />
<text class="tk" x="159.3" y="208.90" text-anchor="end">2.0</text>
<rect x="171.30" y="247.78" width="12.80" height="55.82" fill="#fff" />
<line x1="177.7" y1="303.6" x2="177.7" y2="306.8" stroke-width="1.2" />
<rect x="194.30" y="269.96" width="12.80" height="33.64" fill="#fff" />
<line x1="200.7" y1="303.6" x2="200.7" y2="306.8" stroke-width="1.2" />
<rect x="216.90" y="263.14" width="12.80" height="40.46" fill="#fff" />
<line x1="223.3" y1="303.6" x2="223.3" y2="306.8" stroke-width="1.2" />
<rect x="239.80" y="247.54" width="12.80" height="56.06" fill="#fff" />
<line x1="246.2" y1="303.6" x2="246.2" y2="306.8" stroke-width="1.2" />
<path d="M171.30 303.60V247.78H184.10V303.60" fill="none" />
<path d="M194.30 303.60V269.96H207.10V303.60" fill="none" />
<path d="M216.90 303.60V263.14H229.70V303.60" fill="none" />
<path d="M239.80 303.60V247.54H252.60V303.60" fill="none" />
<circle cx="178.00" cy="222.68" r="2.25" stroke="none" fill="#111" />
<circle cx="175.30" cy="230.47" r="2.25" stroke="none" fill="#111" />
<circle cx="181.40" cy="230.47" r="2.25" stroke="none" fill="#111" />
<circle cx="173.00" cy="249.00" r="2.25" stroke="none" fill="#111" />
<circle cx="178.30" cy="249.00" r="2.25" stroke="none" fill="#111" />
<circle cx="183.70" cy="249.00" r="2.25" stroke="none" fill="#111" />
<circle cx="177.20" cy="251.44" r="2.25" stroke="none" fill="#111" />
<circle cx="178.00" cy="253.88" r="2.25" stroke="none" fill="#111" />
<circle cx="178.70" cy="257.29" r="2.25" stroke="none" fill="#111" />
<circle cx="178.00" cy="271.43" r="2.25" stroke="none" fill="#111" />
<circle cx="195.10" cy="251.93" r="2.25" stroke="none" fill="#111" />
<circle cx="200.50" cy="253.88" r="2.25" stroke="none" fill="#111" />
<circle cx="195.70" cy="270.45" r="2.25" stroke="none" fill="#111" />
<circle cx="206.00" cy="270.45" r="2.25" stroke="none" fill="#111" />
<circle cx="196.60" cy="275.33" r="2.25" stroke="none" fill="#111" />
<circle cx="205.80" cy="275.33" r="2.25" stroke="none" fill="#111" />
<circle cx="196.60" cy="283.61" r="2.25" stroke="none" fill="#111" />
<circle cx="203.50" cy="283.61" r="2.25" stroke="none" fill="#111" />
<circle cx="200.70" cy="264.60" r="2.25" stroke="none" fill="#111" />
<circle cx="223.30" cy="238.28" r="2.25" stroke="none" fill="#111" />
<circle cx="223.30" cy="249.00" r="2.25" stroke="none" fill="#111" />
<circle cx="217.20" cy="258.26" r="2.25" stroke="none" fill="#111" />
<circle cx="223.30" cy="261.19" r="2.25" stroke="none" fill="#111" />
<circle cx="218.70" cy="263.14" r="2.25" stroke="none" fill="#111" />
<circle cx="227.90" cy="263.14" r="2.25" stroke="none" fill="#111" />
<circle cx="218.70" cy="268.01" r="2.25" stroke="none" fill="#111" />
<circle cx="227.90" cy="268.50" r="2.25" stroke="none" fill="#111" />
<circle cx="223.30" cy="269.48" r="2.25" stroke="none" fill="#111" />
<circle cx="218.70" cy="278.25" r="2.25" stroke="none" fill="#111" />
<circle cx="240.10" cy="231.94" r="2.25" stroke="none" fill="#111" />
<circle cx="251.60" cy="231.94" r="2.25" stroke="none" fill="#111" />
<circle cx="246.00" cy="233.89" r="2.25" stroke="none" fill="#111" />
<circle cx="246.00" cy="239.74" r="2.25" stroke="none" fill="#111" />
<circle cx="240.10" cy="247.54" r="2.25" stroke="none" fill="#111" />
<circle cx="251.60" cy="248.51" r="2.25" stroke="none" fill="#111" />
<circle cx="246.00" cy="252.41" r="2.25" stroke="none" fill="#111" />
<circle cx="246.00" cy="255.83" r="2.25" stroke="none" fill="#111" />
<circle cx="246.00" cy="258.26" r="2.25" stroke="none" fill="#111" />
<circle cx="246.00" cy="266.55" r="2.25" stroke="none" fill="#111" />
<path d="M177.70 262.16V230.47M174.00 230.47H181.40M174.00 262.16H181.40" fill="none" />
<path d="M200.70 279.23V258.75M197.00 258.75H204.40M197.00 279.23H204.40" fill="none" />
<path d="M223.30 274.35V250.46M219.60 250.46H227.00M219.60 274.35H227.00" fill="none" />
<path d="M246.20 256.31V234.86M242.50 234.86H249.90M242.50 256.31H249.90" fill="none" />
<text class="xl" transform="translate(180.70,313.60) rotate(-45)" text-anchor="end">DN</text>
<text class="xl" transform="translate(203.70,313.60) rotate(-45)" text-anchor="end">CD49b SP</text>
<text class="xl" transform="translate(226.30,313.60) rotate(-45)" text-anchor="end">DP</text>
<text class="xl" transform="translate(249.20,313.60) rotate(-45)" text-anchor="end">CD49a SP</text>
<line x1="175.3" y1="209.9" x2="225.6" y2="209.9" stroke-width="1.8" />
<text class="st" x="200.45" y="210.00" text-anchor="middle">**</text>
<line x1="175.3" y1="216.3" x2="202" y2="216.3" stroke-width="1.8" />
<text class="st" x="188.65" y="216.40" text-anchor="middle">****</text>
<line x1="199" y1="220.8" x2="250" y2="220.8" stroke-width="1.8" />
<text class="st" x="224.50" y="220.90" text-anchor="middle">****</text>
<line x1="223.3" y1="228.2" x2="250" y2="228.2" stroke-width="1.8" />
<text class="st" x="236.65" y="228.30" text-anchor="middle">***</text>
<line x1="199" y1="234.8" x2="225.6" y2="234.8" stroke-width="1.8" />
<text class="st" x="212.30" y="234.90" text-anchor="middle">*</text>
<text class="yl" transform="translate(134.0,256) rotate(-90)" text-anchor="middle">PD1 gMFI</text>
<text class="yl" transform="translate(144.4,256) rotate(-90)" text-anchor="middle">(normalized to total CD8)</text>
<line x1="290.2" y1="206.2" x2="290.2" y2="304.25" stroke-width="1.35" />
<line x1="289.55" y1="303.6" x2="388.8" y2="303.6" stroke-width="1.4" />
<line x1="286.59999999999997" y1="303.60" x2="290.2" y2="303.60" stroke-width="1.2" />
<text class="tk" x="286.09999999999997" y="306.40" text-anchor="end">0</text>
<line x1="286.59999999999997" y1="284.12" x2="290.2" y2="284.12" stroke-width="1.2" />
<text class="tk" x="286.09999999999997" y="286.92" text-anchor="end">10</text>
<line x1="286.59999999999997" y1="264.64" x2="290.2" y2="264.64" stroke-width="1.2" />
<text class="tk" x="286.09999999999997" y="267.44" text-anchor="end">20</text>
<line x1="286.59999999999997" y1="245.16" x2="290.2" y2="245.16" stroke-width="1.2" />
<text class="tk" x="286.09999999999997" y="247.96" text-anchor="end">30</text>
<line x1="286.59999999999997" y1="225.68" x2="290.2" y2="225.68" stroke-width="1.2" />
<text class="tk" x="286.09999999999997" y="228.48" text-anchor="end">40</text>
<line x1="286.59999999999997" y1="206.20" x2="290.2" y2="206.20" stroke-width="1.2" />
<text class="tk" x="286.09999999999997" y="209.00" text-anchor="end">50</text>
<rect x="298.70" y="267.76" width="13.00" height="35.84" fill="#fff" />
<line x1="305.2" y1="303.6" x2="305.2" y2="306.8" stroke-width="1.2" />
<rect x="321.20" y="279.64" width="13.00" height="23.96" fill="#fff" />
<line x1="327.7" y1="303.6" x2="327.7" y2="306.8" stroke-width="1.2" />
<rect x="343.30" y="273.21" width="13.00" height="30.39" fill="#fff" />
<line x1="349.8" y1="303.6" x2="349.8" y2="306.8" stroke-width="1.2" />
<rect x="366.00" y="265.03" width="13.00" height="38.57" fill="#fff" />
<line x1="372.5" y1="303.6" x2="372.5" y2="306.8" stroke-width="1.2" />
<path d="M298.70 303.60V267.76H311.70V303.60" fill="none" />
<path d="M321.20 303.60V279.64H334.20V303.60" fill="none" />
<path d="M343.30 303.60V273.21H356.30V303.60" fill="none" />
<path d="M366.00 303.60V265.03H379.00V303.60" fill="none" />
<circle cx="305.20" cy="251.00" r="2.25" stroke="none" fill="#111" />
<circle cx="299.20" cy="258.02" r="2.25" stroke="none" fill="#111" />
<circle cx="311.20" cy="255.48" r="2.25" stroke="none" fill="#111" />
<circle cx="305.20" cy="267.76" r="2.25" stroke="none" fill="#111" />
<circle cx="299.20" cy="273.21" r="2.25" stroke="none" fill="#111" />
<circle cx="311.20" cy="273.21" r="2.25" stroke="none" fill="#111" />
<circle cx="305.20" cy="275.94" r="2.25" stroke="none" fill="#111" />
<circle cx="302.20" cy="280.22" r="2.25" stroke="none" fill="#111" />
<circle cx="308.20" cy="271.46" r="2.25" stroke="none" fill="#111" />
<circle cx="305.20" cy="294.05" r="2.25" stroke="none" fill="#111" />
<circle cx="322.10" cy="269.32" r="2.25" stroke="none" fill="#111" />
<circle cx="327.70" cy="268.54" r="2.25" stroke="none" fill="#111" />
<circle cx="333.30" cy="268.54" r="2.25" stroke="none" fill="#111" />
<circle cx="327.70" cy="278.86" r="2.25" stroke="none" fill="#111" />
<circle cx="325.30" cy="289.96" r="2.25" stroke="none" fill="#111" />
<circle cx="330.10" cy="290.74" r="2.25" stroke="none" fill="#111" />
<circle cx="327.70" cy="298.73" r="2.25" stroke="none" fill="#111" />
<circle cx="331.70" cy="280.22" r="2.25" stroke="none" fill="#111" />
<circle cx="323.70" cy="284.12" r="2.25" stroke="none" fill="#111" />
<circle cx="344.60" cy="259.77" r="2.25" stroke="none" fill="#111" />
<circle cx="351.00" cy="256.46" r="2.25" stroke="none" fill="#111" />
<circle cx="355.80" cy="259.77" r="2.25" stroke="none" fill="#111" />
<circle cx="344.60" cy="262.69" r="2.25" stroke="none" fill="#111" />
<circle cx="355.80" cy="273.21" r="2.25" stroke="none" fill="#111" />
<circle cx="344.60" cy="282.17" r="2.25" stroke="none" fill="#111" />
<circle cx="349.80" cy="285.09" r="2.25" stroke="none" fill="#111" />
<circle cx="350.20" cy="294.05" r="2.25" stroke="none" fill="#111" />
<circle cx="351.80" cy="278.28" r="2.25" stroke="none" fill="#111" />
<circle cx="367.00" cy="247.50" r="2.25" stroke="none" fill="#111" />
<circle cx="372.50" cy="247.11" r="2.25" stroke="none" fill="#111" />
<circle cx="378.10" cy="247.50" r="2.25" stroke="none" fill="#111" />
<circle cx="372.50" cy="267.37" r="2.25" stroke="none" fill="#111" />
<circle cx="371.00" cy="270.48" r="2.25" stroke="none" fill="#111" />
<circle cx="374.00" cy="273.41" r="2.25" stroke="none" fill="#111" />
<circle cx="372.50" cy="276.33" r="2.25" stroke="none" fill="#111" />
<circle cx="371.00" cy="279.25" r="2.25" stroke="none" fill="#111" />
<circle cx="372.50" cy="282.17" r="2.25" stroke="none" fill="#111" />
<path d="M305.20 281.39V254.12M301.50 254.12H308.90M301.50 281.39H308.90" fill="none" />
<path d="M327.70 288.02V270.09M324.00 270.09H331.40M324.00 288.02H331.40" fill="none" />
<path d="M349.80 285.29V259.77M346.10 259.77H353.50M346.10 285.29H353.50" fill="none" />
<path d="M372.50 277.30V247.69M368.80 247.69H376.20M368.80 277.30H376.20" fill="none" />
<text class="xl" transform="translate(308.20,313.60) rotate(-45)" text-anchor="end">DN</text>
<text class="xl" transform="translate(330.70,313.60) rotate(-45)" text-anchor="end">CD49b SP</text>
<text class="xl" transform="translate(352.80,313.60) rotate(-45)" text-anchor="end">DP</text>
<text class="xl" transform="translate(375.50,313.60) rotate(-45)" text-anchor="end">CD49a SP</text>
<line x1="326" y1="223" x2="377.3" y2="223" stroke-width="1.8" />
<text class="st" x="351.65" y="223.10" text-anchor="middle">**</text>
<line x1="303.4" y1="235.4" x2="330.1" y2="235.4" stroke-width="1.8" />
<text class="st" x="316.75" y="235.50" text-anchor="middle">****</text>
<line x1="350.2" y1="234.9" x2="377.3" y2="234.9" stroke-width="1.8" />
<text class="st" x="363.75" y="235.00" text-anchor="middle">**</text>
<line x1="326" y1="240.5" x2="353.4" y2="240.5" stroke-width="1.8" />
<text class="st" x="339.70" y="240.60" text-anchor="middle">**</text>
<text class="yl" transform="translate(273.3,254) rotate(-90)" text-anchor="middle">% LAG3<tspan baseline-shift="super" font-size="5">+</tspan> CD8 TIL</text>
<line x1="420.2" y1="206.2" x2="420.2" y2="304.25" stroke-width="1.35" />
<line x1="419.55" y1="303.6" x2="517.8" y2="303.6" stroke-width="1.4" />
<line x1="416.59999999999997" y1="303.60" x2="420.2" y2="303.60" stroke-width="1.2" />
<text class="tk" x="416.09999999999997" y="306.40" text-anchor="end">0</text>
<line x1="416.59999999999997" y1="284.12" x2="420.2" y2="284.12" stroke-width="1.2" />
<text class="tk" x="416.09999999999997" y="286.92" text-anchor="end">2</text>
<line x1="416.59999999999997" y1="264.64" x2="420.2" y2="264.64" stroke-width="1.2" />
<text class="tk" x="416.09999999999997" y="267.44" text-anchor="end">4</text>
<line x1="416.59999999999997" y1="245.16" x2="420.2" y2="245.16" stroke-width="1.2" />
<text class="tk" x="416.09999999999997" y="247.96" text-anchor="end">6</text>
<line x1="416.59999999999997" y1="225.68" x2="420.2" y2="225.68" stroke-width="1.2" />
<text class="tk" x="416.09999999999997" y="228.48" text-anchor="end">8</text>
<line x1="416.59999999999997" y1="206.20" x2="420.2" y2="206.20" stroke-width="1.2" />
<text class="tk" x="416.09999999999997" y="209.00" text-anchor="end">10</text>
<rect x="429.00" y="291.43" width="12.80" height="12.18" fill="#fff" />
<line x1="435.4" y1="303.6" x2="435.4" y2="306.8" stroke-width="1.2" />
<rect x="451.90" y="293.37" width="12.80" height="10.23" fill="#fff" />
<line x1="458.3" y1="303.6" x2="458.3" y2="306.8" stroke-width="1.2" />
<rect x="474.30" y="284.61" width="12.80" height="18.99" fill="#fff" />
<line x1="480.7" y1="303.6" x2="480.7" y2="306.8" stroke-width="1.2" />
<rect x="497.00" y="285.58" width="12.80" height="18.02" fill="#fff" />
<line x1="503.4" y1="303.6" x2="503.4" y2="306.8" stroke-width="1.2" />
<path d="M429.00 303.60V291.43H441.80V303.60" fill="none" />
<path d="M451.90 303.60V293.37H464.70V303.60" fill="none" />
<path d="M474.30 303.60V284.61H487.10V303.60" fill="none" />
<path d="M497.00 303.60V285.58H509.80V303.60" fill="none" />
<circle cx="435.40" cy="283.15" r="2.25" stroke="none" fill="#111" />
<circle cx="430.60" cy="290.94" r="2.25" stroke="none" fill="#111" />
<circle cx="440.90" cy="290.94" r="2.25" stroke="none" fill="#111" />
<circle cx="435.40" cy="289.96" r="2.25" stroke="none" fill="#111" />
<circle cx="430.60" cy="295.81" r="2.25" stroke="none" fill="#111" />
<circle cx="440.90" cy="295.81" r="2.25" stroke="none" fill="#111" />
<circle cx="435.40" cy="296.78" r="2.25" stroke="none" fill="#111" />
<circle cx="433.10" cy="298.73" r="2.25" stroke="none" fill="#111" />
<circle cx="437.90" cy="293.86" r="2.25" stroke="none" fill="#111" />
<circle cx="432.40" cy="292.89" r="2.25" stroke="none" fill="#111" />
<circle cx="457.70" cy="287.63" r="2.25" stroke="none" fill="#111" />
<circle cx="452.70" cy="292.20" r="2.25" stroke="none" fill="#111" />
<circle cx="463.90" cy="292.20" r="2.25" stroke="none" fill="#111" />
<circle cx="458.30" cy="290.94" r="2.25" stroke="none" fill="#111" />
<circle cx="459.90" cy="295.81" r="2.25" stroke="none" fill="#111" />
<circle cx="453.30" cy="294.35" r="2.25" stroke="none" fill="#111" />
<circle cx="462.30" cy="294.35" r="2.25" stroke="none" fill="#111" />
<circle cx="458.30" cy="293.37" r="2.25" stroke="none" fill="#111" />
<circle cx="455.30" cy="295.81" r="2.25" stroke="none" fill="#111" />
<circle cx="478.60" cy="277.30" r="2.25" stroke="none" fill="#111" />
<circle cx="482.90" cy="280.22" r="2.25" stroke="none" fill="#111" />
<circle cx="475.80" cy="283.15" r="2.25" stroke="none" fill="#111" />
<circle cx="486.20" cy="283.15" r="2.25" stroke="none" fill="#111" />
<circle cx="478.20" cy="286.56" r="2.25" stroke="none" fill="#111" />
<circle cx="482.90" cy="286.56" r="2.25" stroke="none" fill="#111" />
<circle cx="475.80" cy="289.48" r="2.25" stroke="none" fill="#111" />
<circle cx="483.80" cy="289.96" r="2.25" stroke="none" fill="#111" />
<circle cx="480.70" cy="285.09" r="2.25" stroke="none" fill="#111" />
<circle cx="480.70" cy="290.94" r="2.25" stroke="none" fill="#111" />
<circle cx="502.90" cy="278.28" r="2.25" stroke="none" fill="#111" />
<circle cx="498.10" cy="284.12" r="2.25" stroke="none" fill="#111" />
<circle cx="509.20" cy="284.12" r="2.25" stroke="none" fill="#111" />
<circle cx="498.90" cy="288.99" r="2.25" stroke="none" fill="#111" />
<circle cx="507.70" cy="288.99" r="2.25" stroke="none" fill="#111" />
<circle cx="503.40" cy="286.07" r="2.25" stroke="none" fill="#111" />
<circle cx="503.40" cy="290.94" r="2.25" stroke="none" fill="#111" />
<circle cx="500.40" cy="291.91" r="2.25" stroke="none" fill="#111" />
<circle cx="506.40" cy="287.04" r="2.25" stroke="none" fill="#111" />
<path d="M435.40 294.83V288.50M431.70 288.50H439.10M431.70 294.83H439.10" fill="none" />
<path d="M458.30 295.32V290.94M454.60 290.94H462.00M454.60 295.32H462.00" fill="none" />
<path d="M480.70 288.02V281.20M477.00 281.20H484.40M477.00 288.02H484.40" fill="none" />
<path d="M503.40 288.99V282.66M499.70 282.66H507.10M499.70 288.99H507.10" fill="none" />
<text class="xl" transform="translate(438.40,313.60) rotate(-45)" text-anchor="end">DN</text>
<text class="xl" transform="translate(461.30,313.60) rotate(-45)" text-anchor="end">CD49b SP</text>
<text class="xl" transform="translate(483.70,313.60) rotate(-45)" text-anchor="end">DP</text>
<text class="xl" transform="translate(506.40,313.60) rotate(-45)" text-anchor="end">CD49a SP</text>
<line x1="433.4" y1="212.3" x2="507.7" y2="212.3" stroke-width="1.8" />
<text class="st" x="470.55" y="212.40" text-anchor="middle">****</text>
<line x1="456.3" y1="219.8" x2="507.7" y2="219.8" stroke-width="1.8" />
<text class="st" x="482.00" y="219.90" text-anchor="middle">**</text>
<line x1="433.4" y1="228.3" x2="484.2" y2="228.3" stroke-width="1.8" />
<text class="st" x="458.80" y="228.40" text-anchor="middle">**</text>
<line x1="456.3" y1="235" x2="484.2" y2="235" stroke-width="1.8" />
<text class="st" x="470.25" y="235.10" text-anchor="middle">***</text>
<text class="yl" transform="translate(403.3,253.7) rotate(-90)" text-anchor="middle">% TIM3<tspan baseline-shift="super" font-size="5">+</tspan> CD8 TIL</text>
<line x1="30.3" y1="374.6" x2="30.3" y2="472.95" stroke-width="1.35" />
<line x1="29.650000000000002" y1="472.3" x2="127.7" y2="472.3" stroke-width="1.4" />
<line x1="26.7" y1="472.30" x2="30.3" y2="472.30" stroke-width="1.2" />
<text class="tk" x="26.2" y="475.10" text-anchor="end">0</text>
<line x1="26.7" y1="454.58" x2="30.3" y2="454.58" stroke-width="1.2" />
<text class="tk" x="26.2" y="457.38" text-anchor="end">20</text>
<line x1="26.7" y1="436.86" x2="30.3" y2="436.86" stroke-width="1.2" />
<text class="tk" x="26.2" y="439.66" text-anchor="end">40</text>
<line x1="26.7" y1="419.14" x2="30.3" y2="419.14" stroke-width="1.2" />
<text class="tk" x="26.2" y="421.94" text-anchor="end">60</text>
<line x1="26.7" y1="401.42" x2="30.3" y2="401.42" stroke-width="1.2" />
<text class="tk" x="26.2" y="404.22" text-anchor="end">80</text>
<line x1="26.7" y1="383.70" x2="30.3" y2="383.70" stroke-width="1.2" />
<text class="tk" x="26.2" y="386.50" text-anchor="end">100</text>
<rect x="38.30" y="421.80" width="13.00" height="50.50" fill="#fff" />
<line x1="44.8" y1="472.3" x2="44.8" y2="475.5" stroke-width="1.2" />
<rect x="61.00" y="408.86" width="13.00" height="63.44" fill="#fff" />
<line x1="67.5" y1="472.3" x2="67.5" y2="475.5" stroke-width="1.2" />
<rect x="83.30" y="395.48" width="13.00" height="76.82" fill="#fff" />
<line x1="89.8" y1="472.3" x2="89.8" y2="475.5" stroke-width="1.2" />
<rect x="106.10" y="394.33" width="13.00" height="77.97" fill="#fff" />
<line x1="112.6" y1="472.3" x2="112.6" y2="475.5" stroke-width="1.2" />
<path d="M38.30 472.30V421.80H51.30V472.30" fill="none" />
<path d="M61.00 472.30V408.86H74.00V472.30" fill="none" />
<path d="M83.30 472.30V395.48H96.30V472.30" fill="none" />
<path d="M106.10 472.30V394.33H119.10V472.30" fill="none" />
<circle cx="44.80" cy="403.63" r="2.25" stroke="none" fill="#111" />
<circle cx="50.10" cy="402.39" r="2.25" stroke="none" fill="#111" />
<circle cx="44.80" cy="409.39" r="2.25" stroke="none" fill="#111" />
<circle cx="50.10" cy="410.28" r="2.25" stroke="none" fill="#111" />
<circle cx="38.70" cy="414.00" r="2.25" stroke="none" fill="#111" />
<circle cx="50.10" cy="415.95" r="2.25" stroke="none" fill="#111" />
<circle cx="44.80" cy="420.91" r="2.25" stroke="none" fill="#111" />
<circle cx="42.50" cy="427.29" r="2.25" stroke="none" fill="#111" />
<circle cx="47.10" cy="427.29" r="2.25" stroke="none" fill="#111" />
<circle cx="44.80" cy="443.33" r="2.25" stroke="none" fill="#111" />
<circle cx="44.80" cy="470.00" r="2.25" stroke="none" fill="#111" />
<circle cx="39.80" cy="419.14" r="2.25" stroke="none" fill="#111" />
<circle cx="68.50" cy="395.22" r="2.25" stroke="none" fill="#111" />
<circle cx="64.60" cy="398.23" r="2.25" stroke="none" fill="#111" />
<circle cx="61.60" cy="404.79" r="2.25" stroke="none" fill="#111" />
<circle cx="67.50" cy="405.85" r="2.25" stroke="none" fill="#111" />
<circle cx="72.00" cy="405.85" r="2.25" stroke="none" fill="#111" />
<circle cx="73.70" cy="406.29" r="2.25" stroke="none" fill="#111" />
<circle cx="66.50" cy="409.39" r="2.25" stroke="none" fill="#111" />
<circle cx="71.00" cy="410.28" r="2.25" stroke="none" fill="#111" />
<circle cx="67.50" cy="414.36" r="2.25" stroke="none" fill="#111" />
<circle cx="67.40" cy="450.86" r="2.25" stroke="none" fill="#111" />
<circle cx="63.50" cy="402.31" r="2.25" stroke="none" fill="#111" />
<circle cx="71.50" cy="401.42" r="2.25" stroke="none" fill="#111" />
<circle cx="84.80" cy="390.79" r="2.25" stroke="none" fill="#111" />
<circle cx="89.80" cy="389.90" r="2.25" stroke="none" fill="#111" />
<circle cx="94.80" cy="390.79" r="2.25" stroke="none" fill="#111" />
<circle cx="85.80" cy="394.33" r="2.25" stroke="none" fill="#111" />
<circle cx="91.80" cy="393.45" r="2.25" stroke="none" fill="#111" />
<circle cx="95.80" cy="395.22" r="2.25" stroke="none" fill="#111" />
<circle cx="87.80" cy="396.99" r="2.25" stroke="none" fill="#111" />
<circle cx="92.80" cy="396.99" r="2.25" stroke="none" fill="#111" />
<circle cx="88.10" cy="401.24" r="2.25" stroke="none" fill="#111" />
<circle cx="90.70" cy="404.08" r="2.25" stroke="none" fill="#111" />
<circle cx="89.80" cy="406.47" r="2.25" stroke="none" fill="#111" />
<circle cx="84.80" cy="396.10" r="2.25" stroke="none" fill="#111" />
<circle cx="107.60" cy="387.24" r="2.25" stroke="none" fill="#111" />
<circle cx="112.60" cy="386.36" r="2.25" stroke="none" fill="#111" />
<circle cx="117.60" cy="387.24" r="2.25" stroke="none" fill="#111" />
<circle cx="108.60" cy="390.79" r="2.25" stroke="none" fill="#111" />
<circle cx="114.60" cy="389.90" r="2.25" stroke="none" fill="#111" />
<circle cx="118.60" cy="391.67" r="2.25" stroke="none" fill="#111" />
<circle cx="110.60" cy="392.56" r="2.25" stroke="none" fill="#111" />
<circle cx="115.60" cy="392.56" r="2.25" stroke="none" fill="#111" />
<circle cx="112.30" cy="397.88" r="2.25" stroke="none" fill="#111" />
<circle cx="112.30" cy="433.49" r="2.25" stroke="none" fill="#111" />
<circle cx="107.60" cy="390.79" r="2.25" stroke="none" fill="#111" />
<circle cx="117.60" cy="389.02" r="2.25" stroke="none" fill="#111" />
<path d="M44.80 440.49V402.04M41.10 402.04H48.50M41.10 440.49H48.50" fill="none" />
<path d="M67.50 424.19V396.10M63.80 396.10H71.20M63.80 424.19H71.20" fill="none" />
<path d="M89.80 401.42V389.02M86.10 389.02H93.50M86.10 401.42H93.50" fill="none" />
<path d="M112.60 406.47V380.33M108.90 380.33H116.30M108.90 406.47H116.30" fill="none" />
<text class="xl" transform="translate(47.80,482.30) rotate(-45)" text-anchor="end">DN</text>
<text class="xl" transform="translate(70.50,482.30) rotate(-45)" text-anchor="end">CD49b SP</text>
<text class="xl" transform="translate(92.80,482.30) rotate(-45)" text-anchor="end">DP</text>
<text class="xl" transform="translate(115.60,482.30) rotate(-45)" text-anchor="end">CD49a SP</text>
<line x1="43" y1="363.7" x2="117.8" y2="363.7" stroke-width="1.8" />
<text class="st" x="80.40" y="363.80" text-anchor="middle">****</text>
<line x1="66.2" y1="371.9" x2="116.9" y2="371.9" stroke-width="1.8" />
<text class="st" x="91.55" y="372.00" text-anchor="middle">****</text>
<line x1="43" y1="380" x2="93.3" y2="380" stroke-width="1.8" />
<text class="st" x="68.15" y="380.10" text-anchor="middle">***</text>
<line x1="66.2" y1="387.8" x2="92.5" y2="387.8" stroke-width="1.8" />
<text class="st" x="79.35" y="387.90" text-anchor="middle">**</text>
<line x1="42.5" y1="391.4" x2="70.5" y2="391.4" stroke-width="1.8" />
<text class="st" x="56.50" y="391.50" text-anchor="middle">**</text>
<text class="yl" transform="translate(8.1,426.5) rotate(-90)" text-anchor="middle">% PD-1<tspan baseline-shift="super" font-size="5">+</tspan> CD8 TIL</text>
<line x1="162.8" y1="374.9" x2="162.8" y2="473.54999999999995" stroke-width="1.35" />
<line x1="162.15" y1="472.9" x2="261.8" y2="472.9" stroke-width="1.4" />
<line x1="159.20000000000002" y1="472.90" x2="162.8" y2="472.90" stroke-width="1.2" />
<text class="tk" x="158.70000000000002" y="475.70" text-anchor="end">0.0</text>
<line x1="159.20000000000002" y1="448.40" x2="162.8" y2="448.40" stroke-width="1.2" />
<text class="tk" x="158.70000000000002" y="451.20" text-anchor="end">0.5</text>
<line x1="159.20000000000002" y1="423.90" x2="162.8" y2="423.90" stroke-width="1.2" />
<text class="tk" x="158.70000000000002" y="426.70" text-anchor="end">1.0</text>
<line x1="159.20000000000002" y1="399.40" x2="162.8" y2="399.40" stroke-width="1.2" />
<text class="tk" x="158.70000000000002" y="402.20" text-anchor="end">1.5</text>
<line x1="159.20000000000002" y1="374.90" x2="162.8" y2="374.90" stroke-width="1.2" />
<text class="tk" x="158.70000000000002" y="377.70" text-anchor="end">2.0</text>
<rect x="171.55" y="439.09" width="12.90" height="33.81" fill="#fff" />
<line x1="178" y1="472.9" x2="178" y2="476.09999999999997" stroke-width="1.2" />
<rect x="194.55" y="446.93" width="12.90" height="25.97" fill="#fff" />
<line x1="201" y1="472.9" x2="201" y2="476.09999999999997" stroke-width="1.2" />
<rect x="217.25" y="422.92" width="12.90" height="49.98" fill="#fff" />
<line x1="223.7" y1="472.9" x2="223.7" y2="476.09999999999997" stroke-width="1.2" />
<rect x="239.65" y="417.04" width="12.90" height="55.86" fill="#fff" />
<line x1="246.1" y1="472.9" x2="246.1" y2="476.09999999999997" stroke-width="1.2" />
<path d="M171.55 472.90V439.09H184.45V472.90" fill="none" />
<path d="M194.55 472.90V446.93H207.45V472.90" fill="none" />
<path d="M217.25 472.90V422.92H230.15V472.90" fill="none" />
<path d="M239.65 472.90V417.04H252.55V472.90" fill="none" />
<circle cx="175.60" cy="428.31" r="2.25" stroke="none" fill="#111" />
<circle cx="181.20" cy="427.82" r="2.25" stroke="none" fill="#111" />
<circle cx="178.00" cy="430.27" r="2.25" stroke="none" fill="#111" />
<circle cx="173.00" cy="434.19" r="2.25" stroke="none" fill="#111" />
<circle cx="183.50" cy="434.19" r="2.25" stroke="none" fill="#111" />
<circle cx="173.50" cy="438.60" r="2.25" stroke="none" fill="#111" />
<circle cx="183.50" cy="438.60" r="2.25" stroke="none" fill="#111" />
<circle cx="178.00" cy="441.05" r="2.25" stroke="none" fill="#111" />
<circle cx="178.00" cy="445.46" r="2.25" stroke="none" fill="#111" />
<circle cx="178.00" cy="447.91" r="2.25" stroke="none" fill="#111" />
<circle cx="178.00" cy="458.20" r="2.25" stroke="none" fill="#111" />
<circle cx="176.00" cy="443.50" r="2.25" stroke="none" fill="#111" />
<circle cx="203.60" cy="433.21" r="2.25" stroke="none" fill="#111" />
<circle cx="200.50" cy="435.17" r="2.25" stroke="none" fill="#111" />
<circle cx="196.50" cy="446.93" r="2.25" stroke="none" fill="#111" />
<circle cx="206.00" cy="447.42" r="2.25" stroke="none" fill="#111" />
<circle cx="201.00" cy="443.50" r="2.25" stroke="none" fill="#111" />
<circle cx="199.00" cy="449.87" r="2.25" stroke="none" fill="#111" />
<circle cx="204.00" cy="449.87" r="2.25" stroke="none" fill="#111" />
<circle cx="198.50" cy="452.32" r="2.25" stroke="none" fill="#111" />
<circle cx="203.00" cy="448.40" r="2.25" stroke="none" fill="#111" />
<circle cx="196.00" cy="443.50" r="2.25" stroke="none" fill="#111" />
<circle cx="206.00" cy="443.50" r="2.25" stroke="none" fill="#111" />
<circle cx="201.00" cy="450.85" r="2.25" stroke="none" fill="#111" />
<circle cx="223.70" cy="402.83" r="2.25" stroke="none" fill="#111" />
<circle cx="223.70" cy="408.71" r="2.25" stroke="none" fill="#111" />
<circle cx="223.70" cy="416.55" r="2.25" stroke="none" fill="#111" />
<circle cx="218.70" cy="421.45" r="2.25" stroke="none" fill="#111" />
<circle cx="223.70" cy="420.47" r="2.25" stroke="none" fill="#111" />
<circle cx="228.70" cy="421.45" r="2.25" stroke="none" fill="#111" />
<circle cx="220.70" cy="424.88" r="2.25" stroke="none" fill="#111" />
<circle cx="226.70" cy="424.88" r="2.25" stroke="none" fill="#111" />
<circle cx="218.70" cy="427.82" r="2.25" stroke="none" fill="#111" />
<circle cx="228.70" cy="428.80" r="2.25" stroke="none" fill="#111" />
<circle cx="223.70" cy="428.80" r="2.25" stroke="none" fill="#111" />
<circle cx="221.70" cy="430.27" r="2.25" stroke="none" fill="#111" />
<circle cx="247.40" cy="400.87" r="2.25" stroke="none" fill="#111" />
<circle cx="244.20" cy="403.32" r="2.25" stroke="none" fill="#111" />
<circle cx="251.40" cy="407.73" r="2.25" stroke="none" fill="#111" />
<circle cx="245.50" cy="410.18" r="2.25" stroke="none" fill="#111" />
<circle cx="242.10" cy="416.55" r="2.25" stroke="none" fill="#111" />
<circle cx="250.10" cy="418.02" r="2.25" stroke="none" fill="#111" />
<circle cx="251.40" cy="422.92" r="2.25" stroke="none" fill="#111" />
<circle cx="245.50" cy="419.98" r="2.25" stroke="none" fill="#111" />
<circle cx="246.10" cy="424.88" r="2.25" stroke="none" fill="#111" />
<circle cx="245.80" cy="430.27" r="2.25" stroke="none" fill="#111" />
<circle cx="241.10" cy="421.45" r="2.25" stroke="none" fill="#111" />
<circle cx="249.10" cy="414.10" r="2.25" stroke="none" fill="#111" />
<path d="M178.00 447.42V430.76M174.30 430.76H181.70M174.30 447.42H181.70" fill="none" />
<path d="M201.00 451.34V440.56M197.30 440.56H204.70M197.30 451.34H204.70" fill="none" />
<path d="M223.70 429.78V413.12M220.00 413.12H227.40M220.00 429.78H227.40" fill="none" />
<path d="M246.10 426.35V407.73M242.40 407.73H249.80M242.40 426.35H249.80" fill="none" />
<text class="xl" transform="translate(181.00,482.90) rotate(-45)" text-anchor="end">DN</text>
<text class="xl" transform="translate(204.00,482.90) rotate(-45)" text-anchor="end">CD49b SP</text>
<text class="xl" transform="translate(226.70,482.90) rotate(-45)" text-anchor="end">DP</text>
<text class="xl" transform="translate(249.10,482.90) rotate(-45)" text-anchor="end">CD49a SP</text>
<line x1="176.4" y1="376.2" x2="250.6" y2="376.2" stroke-width="1.8" />
<text class="st" x="213.50" y="376.30" text-anchor="middle">****</text>
<line x1="199.3" y1="384.2" x2="250.6" y2="384.2" stroke-width="1.8" />
<text class="st" x="224.95" y="384.30" text-anchor="middle">****</text>
<line x1="176.4" y1="392" x2="226.6" y2="392" stroke-width="1.8" />
<text class="st" x="201.50" y="392.10" text-anchor="middle">**</text>
<line x1="199.3" y1="399.4" x2="226.6" y2="399.4" stroke-width="1.8" />
<text class="st" x="212.95" y="399.50" text-anchor="middle">****</text>
<line x1="176.4" y1="406.3" x2="204.4" y2="406.3" stroke-width="1.8" />
<text class="st" x="190.40" y="406.40" text-anchor="middle">*</text>
<text class="yl" transform="translate(134.0,424.6) rotate(-90)" text-anchor="middle">PD1 gMFI</text>
<text class="yl" transform="translate(144.4,424.6) rotate(-90)" text-anchor="middle">(normalized to total CD8)</text>
<line x1="289.9" y1="374.9" x2="289.9" y2="473.15" stroke-width="1.35" />
<line x1="289.25" y1="472.5" x2="388.8" y2="472.5" stroke-width="1.4" />
<line x1="286.29999999999995" y1="472.50" x2="289.9" y2="472.50" stroke-width="1.2" />
<text class="tk" x="285.79999999999995" y="475.30" text-anchor="end">0</text>
<line x1="286.29999999999995" y1="452.98" x2="289.9" y2="452.98" stroke-width="1.2" />
<text class="tk" x="285.79999999999995" y="455.78" text-anchor="end">10</text>
<line x1="286.29999999999995" y1="433.46" x2="289.9" y2="433.46" stroke-width="1.2" />
<text class="tk" x="285.79999999999995" y="436.26" text-anchor="end">20</text>
<line x1="286.29999999999995" y1="413.94" x2="289.9" y2="413.94" stroke-width="1.2" />
<text class="tk" x="285.79999999999995" y="416.74" text-anchor="end">30</text>
<line x1="286.29999999999995" y1="394.42" x2="289.9" y2="394.42" stroke-width="1.2" />
<text class="tk" x="285.79999999999995" y="397.22" text-anchor="end">40</text>
<line x1="286.29999999999995" y1="374.90" x2="289.9" y2="374.90" stroke-width="1.2" />
<text class="tk" x="285.79999999999995" y="377.70" text-anchor="end">50</text>
<rect x="298.25" y="459.42" width="12.90" height="13.08" fill="#fff" />
<line x1="304.7" y1="472.5" x2="304.7" y2="475.7" stroke-width="1.2" />
<rect x="321.25" y="457.08" width="12.90" height="15.42" fill="#fff" />
<line x1="327.7" y1="472.5" x2="327.7" y2="475.7" stroke-width="1.2" />
<rect x="343.95" y="449.08" width="12.90" height="23.42" fill="#fff" />
<line x1="350.4" y1="472.5" x2="350.4" y2="475.7" stroke-width="1.2" />
<rect x="366.25" y="449.86" width="12.90" height="22.64" fill="#fff" />
<line x1="372.7" y1="472.5" x2="372.7" y2="475.7" stroke-width="1.2" />
<path d="M298.25 472.50V459.42H311.15V472.50" fill="none" />
<path d="M321.25 472.50V457.08H334.15V472.50" fill="none" />
<path d="M343.95 472.50V449.08H356.85V472.50" fill="none" />
<path d="M366.25 472.50V449.86H379.15V472.50" fill="none" />
<circle cx="304.70" cy="441.07" r="2.25" stroke="none" fill="#111" />
<circle cx="299.70" cy="459.42" r="2.25" stroke="none" fill="#111" />
<circle cx="309.70" cy="459.42" r="2.25" stroke="none" fill="#111" />
<circle cx="304.70" cy="457.86" r="2.25" stroke="none" fill="#111" />
<circle cx="304.70" cy="462.35" r="2.25" stroke="none" fill="#111" />
<circle cx="303.70" cy="465.28" r="2.25" stroke="none" fill="#111" />
<circle cx="305.70" cy="468.99" r="2.25" stroke="none" fill="#111" />
<circle cx="300.70" cy="464.69" r="2.25" stroke="none" fill="#111" />
<circle cx="308.70" cy="464.69" r="2.25" stroke="none" fill="#111" />
<circle cx="327.70" cy="446.54" r="2.25" stroke="none" fill="#111" />
<circle cx="323.20" cy="454.74" r="2.25" stroke="none" fill="#111" />
<circle cx="332.70" cy="454.74" r="2.25" stroke="none" fill="#111" />
<circle cx="323.20" cy="458.06" r="2.25" stroke="none" fill="#111" />
<circle cx="332.70" cy="458.06" r="2.25" stroke="none" fill="#111" />
<circle cx="327.70" cy="462.15" r="2.25" stroke="none" fill="#111" />
<circle cx="325.70" cy="464.69" r="2.25" stroke="none" fill="#111" />
<circle cx="327.70" cy="456.88" r="2.25" stroke="none" fill="#111" />
<circle cx="330.70" cy="466.64" r="2.25" stroke="none" fill="#111" />
<circle cx="323.70" cy="468.60" r="2.25" stroke="none" fill="#111" />
<circle cx="349.00" cy="430.53" r="2.25" stroke="none" fill="#111" />
<circle cx="352.20" cy="428.97" r="2.25" stroke="none" fill="#111" />
<circle cx="345.00" cy="440.29" r="2.25" stroke="none" fill="#111" />
<circle cx="355.00" cy="440.29" r="2.25" stroke="none" fill="#111" />
<circle cx="351.00" cy="443.22" r="2.25" stroke="none" fill="#111" />
<circle cx="347.40" cy="458.64" r="2.25" stroke="none" fill="#111" />
<circle cx="353.80" cy="461.76" r="2.25" stroke="none" fill="#111" />
<circle cx="348.20" cy="465.08" r="2.25" stroke="none" fill="#111" />
<circle cx="350.40" cy="449.08" r="2.25" stroke="none" fill="#111" />
<circle cx="354.40" cy="452.98" r="2.25" stroke="none" fill="#111" />
<circle cx="372.20" cy="417.45" r="2.25" stroke="none" fill="#111" />
<circle cx="372.70" cy="442.63" r="2.25" stroke="none" fill="#111" />
<circle cx="367.40" cy="447.32" r="2.25" stroke="none" fill="#111" />
<circle cx="377.80" cy="451.42" r="2.25" stroke="none" fill="#111" />
<circle cx="372.70" cy="454.54" r="2.25" stroke="none" fill="#111" />
<circle cx="374.70" cy="460.40" r="2.25" stroke="none" fill="#111" />
<circle cx="371.70" cy="465.28" r="2.25" stroke="none" fill="#111" />
<circle cx="368.70" cy="458.84" r="2.25" stroke="none" fill="#111" />
<circle cx="376.70" cy="447.12" r="2.25" stroke="none" fill="#111" />
<path d="M304.70 466.64V452.20M301.00 452.20H308.40M301.00 466.64H308.40" fill="none" />
<path d="M327.70 463.72V452.00M324.00 452.00H331.40M324.00 463.72H331.40" fill="none" />
<path d="M350.40 461.76V435.41M346.70 435.41H354.10M346.70 461.76H354.10" fill="none" />
<path d="M372.70 462.74V438.93M369.00 438.93H376.40M369.00 462.74H376.40" fill="none" />
<text class="xl" transform="translate(307.70,482.50) rotate(-45)" text-anchor="end">DN</text>
<text class="xl" transform="translate(330.70,482.50) rotate(-45)" text-anchor="end">CD49b SP</text>
<text class="xl" transform="translate(353.40,482.50) rotate(-45)" text-anchor="end">DP</text>
<text class="xl" transform="translate(375.70,482.50) rotate(-45)" text-anchor="end">CD49a SP</text>
<line x1="325.8" y1="390.9" x2="377" y2="390.9" stroke-width="1.8" />
<text class="st" x="351.40" y="391.00" text-anchor="middle">*</text>
<line x1="325.8" y1="401" x2="353" y2="401" stroke-width="1.8" />
<text class="st" x="339.40" y="401.10" text-anchor="middle">*</text>
<text class="yl" transform="translate(272.5,425.9) rotate(-90)" text-anchor="middle">% LAG3<tspan baseline-shift="super" font-size="5">+</tspan> CD8 TIL</text>
<line x1="420.6" y1="374.9" x2="420.6" y2="473.15" stroke-width="1.35" />
<line x1="419.95000000000005" y1="472.5" x2="517.8" y2="472.5" stroke-width="1.4" />
<line x1="417.0" y1="472.50" x2="420.6" y2="472.50" stroke-width="1.2" />
<text class="tk" x="416.5" y="475.30" text-anchor="end">0</text>
<line x1="417.0" y1="452.98" x2="420.6" y2="452.98" stroke-width="1.2" />
<text class="tk" x="416.5" y="455.78" text-anchor="end">2</text>
<line x1="417.0" y1="433.46" x2="420.6" y2="433.46" stroke-width="1.2" />
<text class="tk" x="416.5" y="436.26" text-anchor="end">4</text>
<line x1="417.0" y1="413.94" x2="420.6" y2="413.94" stroke-width="1.2" />
<text class="tk" x="416.5" y="416.74" text-anchor="end">6</text>
<line x1="417.0" y1="394.42" x2="420.6" y2="394.42" stroke-width="1.2" />
<text class="tk" x="416.5" y="397.22" text-anchor="end">8</text>
<line x1="417.0" y1="374.90" x2="420.6" y2="374.90" stroke-width="1.2" />
<text class="tk" x="416.5" y="377.70" text-anchor="end">10</text>
<rect x="429.20" y="464.20" width="13.20" height="8.30" fill="#fff" />
<line x1="435.8" y1="472.5" x2="435.8" y2="475.7" stroke-width="1.2" />
<rect x="451.40" y="462.74" width="13.20" height="9.76" fill="#fff" />
<line x1="458" y1="472.5" x2="458" y2="475.7" stroke-width="1.2" />
<rect x="474.20" y="451.42" width="13.20" height="21.08" fill="#fff" />
<line x1="480.8" y1="472.5" x2="480.8" y2="475.7" stroke-width="1.2" />
<rect x="496.90" y="450.54" width="13.20" height="21.96" fill="#fff" />
<line x1="503.5" y1="472.5" x2="503.5" y2="475.7" stroke-width="1.2" />
<path d="M429.20 472.50V464.20H442.40V472.50" fill="none" />
<path d="M451.40 472.50V462.74H464.60V472.50" fill="none" />
<path d="M474.20 472.50V451.42H487.40V472.50" fill="none" />
<path d="M496.90 472.50V450.54H510.10V472.50" fill="none" />
<circle cx="432.60" cy="460.20" r="2.25" stroke="none" fill="#111" />
<circle cx="438.20" cy="459.42" r="2.25" stroke="none" fill="#111" />
<circle cx="431.80" cy="466.16" r="2.25" stroke="none" fill="#111" />
<circle cx="435.80" cy="466.16" r="2.25" stroke="none" fill="#111" />
<circle cx="440.80" cy="466.16" r="2.25" stroke="none" fill="#111" />
<circle cx="432.80" cy="470.55" r="2.25" stroke="none" fill="#111" />
<circle cx="439.80" cy="470.55" r="2.25" stroke="none" fill="#111" />
<circle cx="458.00" cy="452.69" r="2.25" stroke="none" fill="#111" />
<circle cx="454.00" cy="462.74" r="2.25" stroke="none" fill="#111" />
<circle cx="463.00" cy="464.20" r="2.25" stroke="none" fill="#111" />
<circle cx="458.00" cy="465.67" r="2.25" stroke="none" fill="#111" />
<circle cx="456.00" cy="469.57" r="2.25" stroke="none" fill="#111" />
<circle cx="461.00" cy="461.76" r="2.25" stroke="none" fill="#111" />
<circle cx="480.30" cy="417.55" r="2.25" stroke="none" fill="#111" />
<circle cx="480.30" cy="441.46" r="2.25" stroke="none" fill="#111" />
<circle cx="480.30" cy="447.12" r="2.25" stroke="none" fill="#111" />
<circle cx="475.80" cy="464.20" r="2.25" stroke="none" fill="#111" />
<circle cx="480.30" cy="463.72" r="2.25" stroke="none" fill="#111" />
<circle cx="486.30" cy="460.79" r="2.25" stroke="none" fill="#111" />
<circle cx="486.30" cy="464.20" r="2.25" stroke="none" fill="#111" />
<circle cx="500.60" cy="425.85" r="2.25" stroke="none" fill="#111" />
<circle cx="505.90" cy="425.85" r="2.25" stroke="none" fill="#111" />
<circle cx="503.30" cy="443.71" r="2.25" stroke="none" fill="#111" />
<circle cx="498.50" cy="461.76" r="2.25" stroke="none" fill="#111" />
<circle cx="503.50" cy="463.72" r="2.25" stroke="none" fill="#111" />
<circle cx="508.50" cy="463.72" r="2.25" stroke="none" fill="#111" />
<circle cx="498.50" cy="467.62" r="2.25" stroke="none" fill="#111" />
<path d="M435.80 468.60V460.30M432.10 460.30H439.50M432.10 468.60H439.50" fill="none" />
<path d="M458.00 467.62V457.47M454.30 457.47H461.70M454.30 467.62H461.70" fill="none" />
<path d="M480.80 465.86V433.75M477.10 433.75H484.50M477.10 465.86H484.50" fill="none" />
<path d="M503.50 466.64V431.51M499.80 431.51H507.20M499.80 466.64H507.20" fill="none" />
<text class="xl" transform="translate(438.80,482.50) rotate(-45)" text-anchor="end">DN</text>
<text class="xl" transform="translate(461.00,482.50) rotate(-45)" text-anchor="end">CD49b SP</text>
<text class="xl" transform="translate(483.80,482.50) rotate(-45)" text-anchor="end">DP</text>
<text class="xl" transform="translate(506.50,482.50) rotate(-45)" text-anchor="end">CD49a SP</text>
<text class="yl" transform="translate(402.9,424.5) rotate(-90)" text-anchor="middle">% TIM3<tspan baseline-shift="super" font-size="5">+</tspan> CD8 TIL</text>
<line x1="29.2" y1="542.7" x2="29.2" y2="651.05" stroke-width="1.35" />
<line x1="28.55" y1="650.4" x2="127.7" y2="650.4" stroke-width="1.4" />
<line x1="25.599999999999998" y1="650.40" x2="29.2" y2="650.40" stroke-width="1.2" />
<text class="tk" x="25.099999999999998" y="653.20" text-anchor="end">0</text>
<line x1="25.599999999999998" y1="628.86" x2="29.2" y2="628.86" stroke-width="1.2" />
<text class="tk" x="25.099999999999998" y="631.66" text-anchor="end">20</text>
<line x1="25.599999999999998" y1="607.32" x2="29.2" y2="607.32" stroke-width="1.2" />
<text class="tk" x="25.099999999999998" y="610.12" text-anchor="end">40</text>
<line x1="25.599999999999998" y1="585.78" x2="29.2" y2="585.78" stroke-width="1.2" />
<text class="tk" x="25.099999999999998" y="588.58" text-anchor="end">60</text>
<line x1="25.599999999999998" y1="564.24" x2="29.2" y2="564.24" stroke-width="1.2" />
<text class="tk" x="25.099999999999998" y="567.04" text-anchor="end">80</text>
<line x1="25.599999999999998" y1="542.70" x2="29.2" y2="542.70" stroke-width="1.2" />
<text class="tk" x="25.099999999999998" y="545.50" text-anchor="end">100</text>
<rect x="37.90" y="596.98" width="13.20" height="53.42" fill="#fff" />
<line x1="44.5" y1="650.4" x2="44.5" y2="653.6" stroke-width="1.2" />
<rect x="61.30" y="578.78" width="13.20" height="71.62" fill="#fff" />
<line x1="67.9" y1="650.4" x2="67.9" y2="653.6" stroke-width="1.2" />
<rect x="83.70" y="575.23" width="13.20" height="75.17" fill="#fff" />
<line x1="90.3" y1="650.4" x2="90.3" y2="653.6" stroke-width="1.2" />
<rect x="105.60" y="580.83" width="13.20" height="69.57" fill="#fff" />
<line x1="112.2" y1="650.4" x2="112.2" y2="653.6" stroke-width="1.2" />
<path d="M37.90 650.40V596.98H51.10V650.40" fill="none" />
<path d="M61.30 650.40V578.78H74.50V650.40" fill="none" />
<path d="M83.70 650.40V575.23H96.90V650.40" fill="none" />
<path d="M105.60 650.40V580.83H118.80V650.40" fill="none" />
<circle cx="39.30" cy="549.70" r="2.25" stroke="none" fill="#111" />
<circle cx="50.20" cy="548.84" r="2.25" stroke="none" fill="#111" />
<circle cx="39.30" cy="573.39" r="2.25" stroke="none" fill="#111" />
<circle cx="50.20" cy="574.58" r="2.25" stroke="none" fill="#111" />
<circle cx="44.70" cy="600.97" r="2.25" stroke="none" fill="#111" />
<circle cx="39.30" cy="626.38" r="2.25" stroke="none" fill="#111" />
<circle cx="50.20" cy="626.38" r="2.25" stroke="none" fill="#111" />
<circle cx="39.30" cy="632.63" r="2.25" stroke="none" fill="#111" />
<circle cx="50.20" cy="632.63" r="2.25" stroke="none" fill="#111" />
<circle cx="61.60" cy="549.70" r="2.25" stroke="none" fill="#111" />
<circle cx="73.10" cy="551.64" r="2.25" stroke="none" fill="#111" />
<circle cx="67.10" cy="569.19" r="2.25" stroke="none" fill="#111" />
<circle cx="67.10" cy="573.72" r="2.25" stroke="none" fill="#111" />
<circle cx="62.50" cy="583.63" r="2.25" stroke="none" fill="#111" />
<circle cx="72.50" cy="583.63" r="2.25" stroke="none" fill="#111" />
<circle cx="62.50" cy="591.81" r="2.25" stroke="none" fill="#111" />
<circle cx="72.50" cy="591.81" r="2.25" stroke="none" fill="#111" />
<circle cx="67.10" cy="611.84" r="2.25" stroke="none" fill="#111" />
<circle cx="83.50" cy="546.79" r="2.25" stroke="none" fill="#111" />
<circle cx="83.50" cy="552.50" r="2.25" stroke="none" fill="#111" />
<circle cx="95.40" cy="549.70" r="2.25" stroke="none" fill="#111" />
<circle cx="89.70" cy="572.32" r="2.25" stroke="none" fill="#111" />
<circle cx="83.50" cy="577.92" r="2.25" stroke="none" fill="#111" />
<circle cx="95.40" cy="577.92" r="2.25" stroke="none" fill="#111" />
<circle cx="89.70" cy="591.16" r="2.25" stroke="none" fill="#111" />
<circle cx="89.70" cy="595.15" r="2.25" stroke="none" fill="#111" />
<circle cx="89.70" cy="606.35" r="2.25" stroke="none" fill="#111" />
<circle cx="106.80" cy="548.73" r="2.25" stroke="none" fill="#111" />
<circle cx="112.80" cy="545.93" r="2.25" stroke="none" fill="#111" />
<circle cx="118.10" cy="544.85" r="2.25" stroke="none" fill="#111" />
<circle cx="109.00" cy="550.24" r="2.25" stroke="none" fill="#111" />
<circle cx="112.80" cy="570.49" r="2.25" stroke="none" fill="#111" />
<circle cx="118.10" cy="598.70" r="2.25" stroke="none" fill="#111" />
<circle cx="112.80" cy="601.61" r="2.25" stroke="none" fill="#111" />
<circle cx="112.80" cy="608.29" r="2.25" stroke="none" fill="#111" />
<circle cx="112.80" cy="618.63" r="2.25" stroke="none" fill="#111" />
<path d="M44.50 632.09V561.01M40.80 561.01H48.20M40.80 632.09H48.20" fill="none" />
<path d="M67.90 598.70V559.18M64.20 559.18H71.60M64.20 598.70H71.60" fill="none" />
<path d="M90.30 596.55V553.47M86.60 553.47H94.00M86.60 596.55H94.00" fill="none" />
<path d="M112.20 608.61V551.64M108.50 551.64H115.90M108.50 608.61H115.90" fill="none" />
<text class="xl" transform="translate(47.50,660.40) rotate(-45)" text-anchor="end">DN</text>
<text class="xl" transform="translate(70.90,660.40) rotate(-45)" text-anchor="end">CD49b SP</text>
<text class="xl" transform="translate(93.30,660.40) rotate(-45)" text-anchor="end">DP</text>
<text class="xl" transform="translate(115.20,660.40) rotate(-45)" text-anchor="end">CD49a SP</text>
<line x1="43" y1="533.5" x2="117.5" y2="533.5" stroke-width="1.8" />
<text class="st" x="80.25" y="533.60" text-anchor="middle">*</text>
<line x1="43" y1="542.4" x2="93.9" y2="542.4" stroke-width="1.8" />
<text class="st" x="68.45" y="542.50" text-anchor="middle">*</text>
<text class="yl" transform="translate(9.4,597.9) rotate(-90)" text-anchor="middle">% PD-1<tspan baseline-shift="super" font-size="5">+</tspan> CD8 TIL</text>
<line x1="163.5" y1="543" x2="163.5" y2="650.9499999999999" stroke-width="1.35" />
<line x1="162.85" y1="650.3" x2="261.8" y2="650.3" stroke-width="1.4" />
<line x1="159.9" y1="650.30" x2="163.5" y2="650.30" stroke-width="1.2" />
<text class="tk" x="159.4" y="653.10" text-anchor="end">0.0</text>
<line x1="159.9" y1="623.47" x2="163.5" y2="623.47" stroke-width="1.2" />
<text class="tk" x="159.4" y="626.27" text-anchor="end">0.5</text>
<line x1="159.9" y1="596.65" x2="163.5" y2="596.65" stroke-width="1.2" />
<text class="tk" x="159.4" y="599.45" text-anchor="end">1.0</text>
<line x1="159.9" y1="569.83" x2="163.5" y2="569.83" stroke-width="1.2" />
<text class="tk" x="159.4" y="572.62" text-anchor="end">1.5</text>
<line x1="159.9" y1="543.00" x2="163.5" y2="543.00" stroke-width="1.2" />
<text class="tk" x="159.4" y="545.80" text-anchor="end">2.0</text>
<rect x="172.00" y="590.43" width="13.20" height="59.87" fill="#fff" />
<line x1="178.6" y1="650.3" x2="178.6" y2="653.5" stroke-width="1.2" />
<rect x="193.90" y="613.28" width="13.20" height="37.02" fill="#fff" />
<line x1="200.5" y1="650.3" x2="200.5" y2="653.5" stroke-width="1.2" />
<rect x="216.40" y="598.80" width="13.20" height="51.50" fill="#fff" />
<line x1="223" y1="650.3" x2="223" y2="653.5" stroke-width="1.2" />
<rect x="239.80" y="585.38" width="13.20" height="64.92" fill="#fff" />
<line x1="246.4" y1="650.3" x2="246.4" y2="653.5" stroke-width="1.2" />
<path d="M172.00 650.30V590.43H185.20V650.30" fill="none" />
<path d="M193.90 650.30V613.28H207.10V650.30" fill="none" />
<path d="M216.40 650.30V598.80H229.60V650.30" fill="none" />
<path d="M239.80 650.30V585.38H253.00V650.30" fill="none" />
<circle cx="177.80" cy="558.02" r="2.25" stroke="none" fill="#111" />
<circle cx="177.80" cy="571.43" r="2.25" stroke="none" fill="#111" />
<circle cx="177.80" cy="576.26" r="2.25" stroke="none" fill="#111" />
<circle cx="177.80" cy="598.80" r="2.25" stroke="none" fill="#111" />
<circle cx="177.80" cy="609.53" r="2.25" stroke="none" fill="#111" />
<circle cx="177.80" cy="620.79" r="2.25" stroke="none" fill="#111" />
<circle cx="173.10" cy="633.13" r="2.25" stroke="none" fill="#111" />
<circle cx="182.60" cy="630.45" r="2.25" stroke="none" fill="#111" />
<circle cx="178.60" cy="588.60" r="2.25" stroke="none" fill="#111" />
<circle cx="201.10" cy="576.26" r="2.25" stroke="none" fill="#111" />
<circle cx="200.50" cy="593.43" r="2.25" stroke="none" fill="#111" />
<circle cx="202.00" cy="598.26" r="2.25" stroke="none" fill="#111" />
<circle cx="199.50" cy="607.38" r="2.25" stroke="none" fill="#111" />
<circle cx="196.70" cy="626.16" r="2.25" stroke="none" fill="#111" />
<circle cx="199.50" cy="629.91" r="2.25" stroke="none" fill="#111" />
<circle cx="204.00" cy="626.16" r="2.25" stroke="none" fill="#111" />
<circle cx="206.00" cy="627.23" r="2.25" stroke="none" fill="#111" />
<circle cx="200.50" cy="618.11" r="2.25" stroke="none" fill="#111" />
<circle cx="223.00" cy="544.07" r="2.25" stroke="none" fill="#111" />
<circle cx="217.30" cy="582.70" r="2.25" stroke="none" fill="#111" />
<circle cx="228.60" cy="583.77" r="2.25" stroke="none" fill="#111" />
<circle cx="217.30" cy="605.77" r="2.25" stroke="none" fill="#111" />
<circle cx="228.60" cy="605.77" r="2.25" stroke="none" fill="#111" />
<circle cx="217.30" cy="613.28" r="2.25" stroke="none" fill="#111" />
<circle cx="228.60" cy="613.28" r="2.25" stroke="none" fill="#111" />
<circle cx="223.00" cy="619.18" r="2.25" stroke="none" fill="#111" />
<circle cx="223.00" cy="625.08" r="2.25" stroke="none" fill="#111" />
<circle cx="240.00" cy="562.85" r="2.25" stroke="none" fill="#111" />
<circle cx="251.30" cy="565.53" r="2.25" stroke="none" fill="#111" />
<circle cx="245.60" cy="575.19" r="2.25" stroke="none" fill="#111" />
<circle cx="245.60" cy="586.46" r="2.25" stroke="none" fill="#111" />
<circle cx="245.60" cy="605.77" r="2.25" stroke="none" fill="#111" />
<circle cx="240.00" cy="616.50" r="2.25" stroke="none" fill="#111" />
<circle cx="251.30" cy="618.11" r="2.25" stroke="none" fill="#111" />
<circle cx="245.60" cy="618.11" r="2.25" stroke="none" fill="#111" />
<circle cx="246.40" cy="596.65" r="2.25" stroke="none" fill="#111" />
<path d="M178.60 629.38V549.44M174.90 549.44H182.30M174.90 629.38H182.30" fill="none" />
<path d="M200.50 629.91V592.89M196.80 592.89H204.20M196.80 629.91H204.20" fill="none" />
<path d="M223.00 623.47V574.65M219.30 574.65H226.70M219.30 623.47H226.70" fill="none" />
<path d="M246.40 620.79V547.83M242.70 547.83H250.10M242.70 620.79H250.10" fill="none" />
<text class="xl" transform="translate(181.60,660.30) rotate(-45)" text-anchor="end">DN</text>
<text class="xl" transform="translate(203.50,660.30) rotate(-45)" text-anchor="end">CD49b SP</text>
<text class="xl" transform="translate(226.00,660.30) rotate(-45)" text-anchor="end">DP</text>
<text class="xl" transform="translate(249.40,660.30) rotate(-45)" text-anchor="end">CD49a SP</text>
<line x1="199.5" y1="532.6" x2="250.4" y2="532.6" stroke-width="1.8" />
<text class="st" x="224.95" y="532.70" text-anchor="middle">*</text>
<line x1="199.5" y1="540.1" x2="225.8" y2="540.1" stroke-width="1.8" />
<text class="st" x="212.65" y="540.20" text-anchor="middle">*</text>
<text class="yl" transform="translate(134.3,597.5) rotate(-90)" text-anchor="middle">PD1 gMFI</text>
<text class="yl" transform="translate(144.70000000000002,597.5) rotate(-90)" text-anchor="middle">(normalized to total CD8)</text>
<line x1="290.1" y1="541.8" x2="290.1" y2="650.9499999999999" stroke-width="1.35" />
<line x1="289.45000000000005" y1="650.3" x2="388.8" y2="650.3" stroke-width="1.4" />
<line x1="286.5" y1="650.30" x2="290.1" y2="650.30" stroke-width="1.2" />
<text class="tk" x="286.0" y="653.10" text-anchor="end">0</text>
<line x1="286.5" y1="630.96" x2="290.1" y2="630.96" stroke-width="1.2" />
<text class="tk" x="286.0" y="633.76" text-anchor="end">10</text>
<line x1="286.5" y1="611.62" x2="290.1" y2="611.62" stroke-width="1.2" />
<text class="tk" x="286.0" y="614.42" text-anchor="end">20</text>
<line x1="286.5" y1="592.28" x2="290.1" y2="592.28" stroke-width="1.2" />
<text class="tk" x="286.0" y="595.08" text-anchor="end">30</text>
<line x1="286.5" y1="572.94" x2="290.1" y2="572.94" stroke-width="1.2" />
<text class="tk" x="286.0" y="575.74" text-anchor="end">40</text>
<line x1="286.5" y1="553.60" x2="290.1" y2="553.60" stroke-width="1.2" />
<text class="tk" x="286.0" y="556.40" text-anchor="end">50</text>
<rect x="298.60" y="612.39" width="13.20" height="37.91" fill="#fff" />
<line x1="305.2" y1="650.3" x2="305.2" y2="653.5" stroke-width="1.2" />
<rect x="321.10" y="622.06" width="13.20" height="28.24" fill="#fff" />
<line x1="327.7" y1="650.3" x2="327.7" y2="653.5" stroke-width="1.2" />
<rect x="343.70" y="605.62" width="13.20" height="44.68" fill="#fff" />
<line x1="350.3" y1="650.3" x2="350.3" y2="653.5" stroke-width="1.2" />
<rect x="366.20" y="595.57" width="13.20" height="54.73" fill="#fff" />
<line x1="372.8" y1="650.3" x2="372.8" y2="653.5" stroke-width="1.2" />
<path d="M298.60 650.30V612.39H311.80V650.30" fill="none" />
<path d="M321.10 650.30V622.06H334.30V650.30" fill="none" />
<path d="M343.70 650.30V605.62H356.90V650.30" fill="none" />
<path d="M366.20 650.30V595.57H379.40V650.30" fill="none" />
<circle cx="305.20" cy="574.10" r="2.25" stroke="none" fill="#111" />
<circle cx="305.20" cy="586.48" r="2.25" stroke="none" fill="#111" />
<circle cx="299.70" cy="596.15" r="2.25" stroke="none" fill="#111" />
<circle cx="305.20" cy="598.08" r="2.25" stroke="none" fill="#111" />
<circle cx="311.00" cy="597.70" r="2.25" stroke="none" fill="#111" />
<circle cx="305.20" cy="632.89" r="2.25" stroke="none" fill="#111" />
<circle cx="299.70" cy="638.70" r="2.25" stroke="none" fill="#111" />
<circle cx="305.20" cy="637.73" r="2.25" stroke="none" fill="#111" />
<circle cx="311.00" cy="638.70" r="2.25" stroke="none" fill="#111" />
<circle cx="327.70" cy="594.60" r="2.25" stroke="none" fill="#111" />
<circle cx="322.30" cy="611.62" r="2.25" stroke="none" fill="#111" />
<circle cx="332.60" cy="608.33" r="2.25" stroke="none" fill="#111" />
<circle cx="322.30" cy="630.19" r="2.25" stroke="none" fill="#111" />
<circle cx="332.60" cy="630.19" r="2.25" stroke="none" fill="#111" />
<circle cx="322.30" cy="639.08" r="2.25" stroke="none" fill="#111" />
<circle cx="332.60" cy="639.08" r="2.25" stroke="none" fill="#111" />
<circle cx="327.70" cy="623.22" r="2.25" stroke="none" fill="#111" />
<circle cx="327.70" cy="634.83" r="2.25" stroke="none" fill="#111" />
<circle cx="350.30" cy="568.30" r="2.25" stroke="none" fill="#111" />
<circle cx="350.30" cy="591.12" r="2.25" stroke="none" fill="#111" />
<circle cx="344.30" cy="602.53" r="2.25" stroke="none" fill="#111" />
<circle cx="355.70" cy="599.24" r="2.25" stroke="none" fill="#111" />
<circle cx="355.70" cy="605.82" r="2.25" stroke="none" fill="#111" />
<circle cx="346.80" cy="624.19" r="2.25" stroke="none" fill="#111" />
<circle cx="350.30" cy="625.16" r="2.25" stroke="none" fill="#111" />
<circle cx="353.80" cy="626.12" r="2.25" stroke="none" fill="#111" />
<circle cx="350.30" cy="630.19" r="2.25" stroke="none" fill="#111" />
<circle cx="372.60" cy="544.51" r="2.25" stroke="none" fill="#111" />
<circle cx="372.60" cy="571.59" r="2.25" stroke="none" fill="#111" />
<circle cx="372.60" cy="578.74" r="2.25" stroke="none" fill="#111" />
<circle cx="372.60" cy="584.54" r="2.25" stroke="none" fill="#111" />
<circle cx="372.60" cy="593.63" r="2.25" stroke="none" fill="#111" />
<circle cx="366.60" cy="618.39" r="2.25" stroke="none" fill="#111" />
<circle cx="378.10" cy="615.68" r="2.25" stroke="none" fill="#111" />
<circle cx="366.60" cy="626.32" r="2.25" stroke="none" fill="#111" />
<circle cx="378.10" cy="626.32" r="2.25" stroke="none" fill="#111" />
<path d="M305.20 639.47V586.48M301.50 586.48H308.90M301.50 639.47H308.90" fill="none" />
<path d="M327.70 636.76V606.98M324.00 606.98H331.40M324.00 636.76H331.40" fill="none" />
<path d="M350.30 623.22V586.48M346.60 586.48H354.00M346.60 623.22H354.00" fill="none" />
<path d="M372.80 622.84V567.91M369.10 567.91H376.50M369.10 622.84H376.50" fill="none" />
<text class="xl" transform="translate(308.20,660.30) rotate(-45)" text-anchor="end">DN</text>
<text class="xl" transform="translate(330.70,660.30) rotate(-45)" text-anchor="end">CD49b SP</text>
<text class="xl" transform="translate(353.30,660.30) rotate(-45)" text-anchor="end">DP</text>
<text class="xl" transform="translate(375.80,660.30) rotate(-45)" text-anchor="end">CD49a SP</text>
<line x1="302.8" y1="540.9" x2="377.5" y2="540.9" stroke-width="1.8" />
<text class="st" x="340.15" y="541.00" text-anchor="middle">**</text>
<line x1="325.9" y1="548.5" x2="377.5" y2="548.5" stroke-width="1.8" />
<text class="st" x="351.70" y="548.60" text-anchor="middle">**</text>
<line x1="325.9" y1="555.5" x2="353.4" y2="555.5" stroke-width="1.8" />
<text class="st" x="339.65" y="555.60" text-anchor="middle">**</text>
<text class="yl" transform="translate(272.9,597.1) rotate(-90)" text-anchor="middle">% LAG3<tspan baseline-shift="super" font-size="5">+</tspan> CD8 TIL</text>
<line x1="421.4" y1="543.1" x2="421.4" y2="650.65" stroke-width="1.35" />
<line x1="420.75" y1="650" x2="517.8" y2="650" stroke-width="1.4" />
<line x1="417.79999999999995" y1="650.00" x2="421.4" y2="650.00" stroke-width="1.2" />
<text class="tk" x="417.29999999999995" y="652.80" text-anchor="end">0</text>
<line x1="417.79999999999995" y1="628.62" x2="421.4" y2="628.62" stroke-width="1.2" />
<text class="tk" x="417.29999999999995" y="631.42" text-anchor="end">2</text>
<line x1="417.79999999999995" y1="607.24" x2="421.4" y2="607.24" stroke-width="1.2" />
<text class="tk" x="417.29999999999995" y="610.04" text-anchor="end">4</text>
<line x1="417.79999999999995" y1="585.86" x2="421.4" y2="585.86" stroke-width="1.2" />
<text class="tk" x="417.29999999999995" y="588.66" text-anchor="end">6</text>
<line x1="417.79999999999995" y1="564.48" x2="421.4" y2="564.48" stroke-width="1.2" />
<text class="tk" x="417.29999999999995" y="567.28" text-anchor="end">8</text>
<line x1="417.79999999999995" y1="543.10" x2="421.4" y2="543.10" stroke-width="1.2" />
<text class="tk" x="417.29999999999995" y="545.90" text-anchor="end">10</text>
<rect x="428.70" y="640.91" width="13.00" height="9.09" fill="#fff" />
<line x1="435.2" y1="650" x2="435.2" y2="653.2" stroke-width="1.2" />
<rect x="451.30" y="633.64" width="13.00" height="16.36" fill="#fff" />
<line x1="457.8" y1="650" x2="457.8" y2="653.2" stroke-width="1.2" />
<rect x="473.80" y="620.07" width="13.00" height="29.93" fill="#fff" />
<line x1="480.3" y1="650" x2="480.3" y2="653.2" stroke-width="1.2" />
<rect x="496.70" y="627.02" width="13.00" height="22.98" fill="#fff" />
<line x1="503.2" y1="650" x2="503.2" y2="653.2" stroke-width="1.2" />
<path d="M428.70 650.00V640.91H441.70V650.00" fill="none" />
<path d="M451.30 650.00V633.64H464.30V650.00" fill="none" />
<path d="M473.80 650.00V620.07H486.80V650.00" fill="none" />
<path d="M496.70 650.00V627.02H509.70V650.00" fill="none" />
<circle cx="432.30" cy="630.01" r="2.25" stroke="none" fill="#111" />
<circle cx="438.60" cy="629.15" r="2.25" stroke="none" fill="#111" />
<circle cx="432.30" cy="635.03" r="2.25" stroke="none" fill="#111" />
<circle cx="438.60" cy="635.03" r="2.25" stroke="none" fill="#111" />
<circle cx="435.20" cy="639.31" r="2.25" stroke="none" fill="#111" />
<circle cx="430.20" cy="643.59" r="2.25" stroke="none" fill="#111" />
<circle cx="439.70" cy="643.59" r="2.25" stroke="none" fill="#111" />
<circle cx="430.20" cy="649.47" r="2.25" stroke="none" fill="#111" />
<circle cx="434.20" cy="648.93" r="2.25" stroke="none" fill="#111" />
<circle cx="457.80" cy="628.19" r="2.25" stroke="none" fill="#111" />
<circle cx="453.30" cy="633.97" r="2.25" stroke="none" fill="#111" />
<circle cx="462.60" cy="633.97" r="2.25" stroke="none" fill="#111" />
<circle cx="457.80" cy="630.76" r="2.25" stroke="none" fill="#111" />
<circle cx="457.80" cy="637.17" r="2.25" stroke="none" fill="#111" />
<circle cx="457.80" cy="640.38" r="2.25" stroke="none" fill="#111" />
<circle cx="454.80" cy="636.10" r="2.25" stroke="none" fill="#111" />
<circle cx="460.80" cy="636.10" r="2.25" stroke="none" fill="#111" />
<circle cx="457.80" cy="633.43" r="2.25" stroke="none" fill="#111" />
<circle cx="480.30" cy="590.14" r="2.25" stroke="none" fill="#111" />
<circle cx="474.80" cy="619.11" r="2.25" stroke="none" fill="#111" />
<circle cx="485.70" cy="620.07" r="2.25" stroke="none" fill="#111" />
<circle cx="480.30" cy="624.34" r="2.25" stroke="none" fill="#111" />
<circle cx="477.60" cy="629.15" r="2.25" stroke="none" fill="#111" />
<circle cx="483.00" cy="629.15" r="2.25" stroke="none" fill="#111" />
<circle cx="480.30" cy="641.77" r="2.25" stroke="none" fill="#111" />
<circle cx="503.00" cy="585.86" r="2.25" stroke="none" fill="#111" />
<circle cx="508.50" cy="618.25" r="2.25" stroke="none" fill="#111" />
<circle cx="497.70" cy="622.74" r="2.25" stroke="none" fill="#111" />
<circle cx="508.50" cy="625.41" r="2.25" stroke="none" fill="#111" />
<circle cx="497.70" cy="642.52" r="2.25" stroke="none" fill="#111" />
<circle cx="508.50" cy="642.52" r="2.25" stroke="none" fill="#111" />
<circle cx="503.00" cy="650.00" r="2.25" stroke="none" fill="#111" />
<path d="M435.20 648.40V632.90M431.50 632.90H438.90M431.50 648.40H438.90" fill="none" />
<path d="M457.80 637.17V630.22M454.10 630.22H461.50M454.10 637.17H461.50" fill="none" />
<path d="M480.30 635.46V606.71M476.60 606.71H484.00M476.60 635.46H484.00" fill="none" />
<path d="M503.20 645.51V608.52M499.50 608.52H506.90M499.50 645.51H506.90" fill="none" />
<text class="xl" transform="translate(438.20,660.00) rotate(-45)" text-anchor="end">DN</text>
<text class="xl" transform="translate(460.80,660.00) rotate(-45)" text-anchor="end">CD49b SP</text>
<text class="xl" transform="translate(483.30,660.00) rotate(-45)" text-anchor="end">DP</text>
<text class="xl" transform="translate(506.20,660.00) rotate(-45)" text-anchor="end">CD49a SP</text>
<line x1="433.2" y1="561.8" x2="507.5" y2="561.8" stroke-width="1.8" />
<text class="st" x="470.35" y="561.90" text-anchor="middle">*</text>
<line x1="456.5" y1="573.6" x2="483.4" y2="573.6" stroke-width="1.8" />
<text class="st" x="469.95" y="573.70" text-anchor="middle">*</text>
<text class="yl" transform="translate(402.9,595.7) rotate(-90)" text-anchor="middle">% TIM3<tspan baseline-shift="super" font-size="5">+</tspan> CD8 TIL</text>
<text class="rl" x="1.0" y="12.1">A</text>
<text class="rl" x="0.8" y="173.2">B</text>
<text class="rl" x="0.8" y="353.3">C</text>
<text class="rl" x="1.0" y="522.5">D</text>
<text class="ti" x="25.4" y="7.8" textLength="174.1" lengthAdjust="spacingAndGlyphs">CD49b SP OT-I day 7 PT from B16-OVA</text>
<line x1="25.4" y1="10.3" x2="199.5" y2="10.3" stroke-width="1.1" />
<text class="ti" x="25" y="170.3" textLength="148" lengthAdjust="spacingAndGlyphs">Endogenous CD8  from B16-OVA</text>
<line x1="25" y1="171.6" x2="173" y2="171.6" stroke-width="1.1" />
<text class="ti" x="25" y="351.5" textLength="154.2" lengthAdjust="spacingAndGlyphs">Endogenous CD8  from BRPKp110</text>
<line x1="25" y1="352.9" x2="179.2" y2="352.9" stroke-width="1.1" />
<text class="ti" x="25" y="521" textLength="138.5" lengthAdjust="spacingAndGlyphs">Endogenous CD8  from B16-F1</text>
<line x1="25" y1="522.8" x2="163.5" y2="522.8" stroke-width="1.1" />
</g>
</svg>
</body></html>
